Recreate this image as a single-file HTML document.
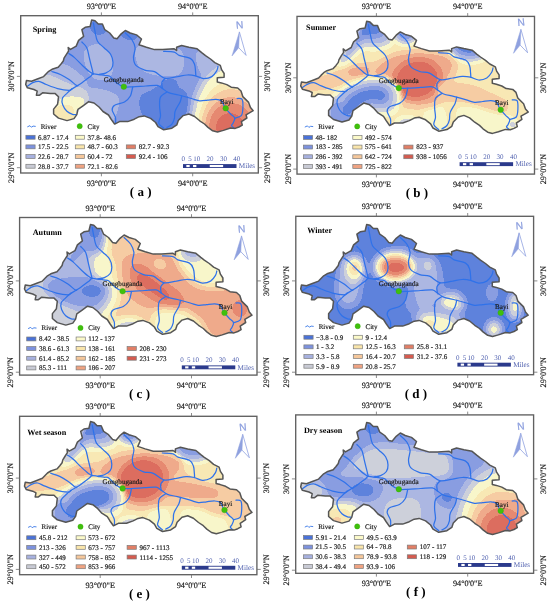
<!DOCTYPE html><html><head><meta charset="utf-8"><title>Seasonal precipitation maps</title>
<style>html,body{margin:0;padding:0;background:#fff}svg{display:block}text{font-family:"Liberation Serif","Times New Roman",serif;text-rendering:geometricPrecision}.k text{stroke:#222;stroke-width:.18px}</style></head><body>
<svg width="550" height="602" viewBox="0 0 550 602">
<defs>
<path id="basin" d="M25.7,84.5L26.5,80.5L31.5,81.3L38.0,78.8L43.6,76.6L46.0,74.0L48.7,71.3L52.0,69.3L58.2,67.2L61.0,64.0L63.3,61.0L64.0,58.2L66.4,54.3L68.6,51.0L68.2,47.5L70.5,49.4L76.2,46.1L78.6,40.4L83.6,36.3L81.9,29.7L85.2,27.3L90.1,26.5L91.7,19.9L95.0,20.7L98.3,24.0L102.4,24.0L104.8,29.7L109.7,33.0L113.8,37.9L117.1,38.7L121.2,33.8L125.3,30.5L130.2,33.0L136.5,34.9L141.5,39.0L139.0,44.7L146.4,47.2L154.5,49.6L162.7,49.6L174.2,48.8L176.6,50.5L176.6,47.2L181.6,45.5L188.9,47.2L197.1,48.8L202.0,52.9L205.5,55.6L210.5,59.0L214.8,62.6L220.3,65.4L221.6,69.7L224.1,73.5L224.1,77.2L217.3,77.8L217.3,81.9L221.4,82.9L226.8,84.6L231.2,87.2L237.7,88.0L241.0,91.0L242.8,96.6L248.6,102.4L250.5,107.5L253.2,110.7L246.0,114.8L246.9,118.0L241.4,121.6L242.3,125.2L239.0,127.0L235.2,128.4L230.5,128.0L223.4,130.4L217.5,132.0L212.7,130.8L208.0,127.4L204.5,124.0L199.7,120.8L194.6,116.5L188.9,114.0L183.2,115.6L178.3,120.6L176.8,124.9L171.9,128.2L163.7,129.8L158.0,126.6L155.6,122.5L150.6,118.4L144.1,115.9L139.2,116.7L134.3,119.2L127.7,121.6L119.5,121.6L114.6,124.1L111.0,119.0L108.5,115.0L103.0,111.5L99.0,107.0L94.0,103.0L88.7,101.7L83.0,105.8L78.0,109.3L76.8,114.6L74.0,118.6L67.0,120.6L58.5,118.1L53.6,114.0L53.6,109.1L57.6,104.2L58.5,96.8L55.2,93.6L50.3,93.6L42.9,92.7L39.6,95.2L36.4,95.2L37.2,91.1L33.9,89.5L27.4,87.8Z"/>
<clipPath id="bclip"><use href="#basin"/></clipPath>
<filter id="q3" x="0" y="0" width="300" height="200" filterUnits="userSpaceOnUse" color-interpolation-filters="sRGB">
<feGaussianBlur stdDeviation="3"/>
<feComponentTransfer><feFuncR type="discrete" tableValues="0.369 0.541 0.678 0.804 0.976 0.976 0.965 0.941 0.902 0.863"/><feFuncG type="discrete" tableValues="0.510 0.616 0.718 0.816 0.965 0.910 0.800 0.667 0.541 0.431"/><feFuncB type="discrete" tableValues="0.863 0.886 0.890 0.855 0.796 0.706 0.643 0.549 0.447 0.376"/><feFuncA type="linear" slope="0" intercept="1"/></feComponentTransfer>
<feGaussianBlur stdDeviation="0.35"/>
</filter>
<filter id="q2" x="0" y="0" width="300" height="200" filterUnits="userSpaceOnUse" color-interpolation-filters="sRGB">
<feGaussianBlur stdDeviation="2"/>
<feComponentTransfer><feFuncR type="discrete" tableValues="0.369 0.541 0.678 0.804 0.976 0.976 0.965 0.941 0.902 0.863"/><feFuncG type="discrete" tableValues="0.510 0.616 0.718 0.816 0.965 0.910 0.800 0.667 0.541 0.431"/><feFuncB type="discrete" tableValues="0.863 0.886 0.890 0.855 0.796 0.706 0.643 0.549 0.447 0.376"/><feFuncA type="linear" slope="0" intercept="1"/></feComponentTransfer>
<feGaussianBlur stdDeviation="0.35"/>
</filter>
<g id="rivers" fill="none" stroke="#2f72ea" stroke-width="1.25" stroke-linecap="round" stroke-linejoin="round">
<path d="M27.4,86.2C28.2,85.7 30.4,83.7 32.3,82.9C34.2,82.1 36.5,81.0 38.8,81.3C41.1,81.6 43.1,83.3 46.2,84.5C49.3,85.7 53.8,87.6 57.6,88.6C61.4,89.6 66.6,90.3 69.1,90.3C71.6,90.3 70.5,89.7 72.4,88.6C74.3,87.5 77.6,85.7 80.6,83.7C83.6,81.7 88.3,78.0 90.4,76.4C92.5,74.8 91.8,74.2 93.2,73.9C94.6,73.6 97.0,74.3 99.0,74.6C101.0,74.9 103.3,75.2 105.1,75.5C106.9,75.8 107.9,75.0 109.8,76.2C111.7,77.4 114.1,81.0 116.4,82.7C118.7,84.5 121.1,86.0 123.8,86.7C126.5,87.4 129.0,86.9 132.7,86.8C136.4,86.7 141.7,86.2 145.8,86.0C149.9,85.8 154.5,85.0 157.3,85.4C160.1,85.8 160.5,87.3 162.4,88.5C164.3,89.7 166.0,91.5 168.7,92.6C171.4,93.7 174.8,94.0 178.6,95.0C182.4,96.0 187.9,97.5 191.4,98.5C194.9,99.5 196.8,100.6 199.5,100.9C202.2,101.2 205.0,100.4 207.7,100.1C210.4,99.8 213.6,99.2 215.9,99.3C218.2,99.4 220.2,99.8 221.6,100.9C223.0,102.0 223.4,104.6 224.1,105.8C224.8,107.0 224.6,106.9 225.7,108.3C226.8,109.7 229.1,112.4 230.6,114.0C232.1,115.6 234.3,116.6 234.7,118.1C235.1,119.6 233.6,121.8 233.1,123.0C232.6,124.2 231.4,124.7 231.5,125.5C231.6,126.3 233.5,127.5 233.9,127.9"/>
<path d="M72.4,88.6C71.4,89.4 68.3,91.9 66.6,93.6C64.9,95.2 62.9,96.6 62.3,98.5C61.7,100.4 62.0,102.9 62.8,105.0C63.6,107.1 65.3,109.7 66.9,111.2C68.5,112.8 71.0,113.8 72.5,114.3C74.0,114.8 75.2,114.5 75.8,114.5"/>
<path d="M51.9,71.5C53.4,72.0 58.0,73.4 60.9,74.7C63.8,76.0 66.5,77.8 69.1,79.6C71.7,81.4 75.0,84.5 76.5,85.4C78.0,86.4 77.8,85.3 78.0,85.3"/>
<path d="M68.8,53.5C69.8,54.2 72.2,55.6 74.5,57.6C76.8,59.6 80.2,63.4 82.7,65.7C85.2,68.0 87.5,70.1 89.3,71.5C91.0,72.9 92.5,73.5 93.2,73.9"/>
<path d="M81.9,42.0C82.7,43.0 85.6,45.1 86.8,47.7C88.0,50.3 88.5,54.3 89.3,57.6C90.1,60.9 91.0,64.7 91.7,67.4C92.4,70.1 93.0,72.8 93.2,73.9"/>
<path d="M93.4,23.2C93.7,24.6 94.3,28.4 95.0,31.4C95.7,34.4 96.0,38.5 97.5,41.2C99.0,43.9 101.8,45.5 104.0,47.7C106.2,49.9 109.1,51.8 110.6,54.3C112.1,56.8 112.9,60.0 113.0,62.5C113.1,65.0 112.6,67.2 111.4,69.0C110.2,70.8 107.6,72.2 105.6,73.1C103.5,74.0 100.2,74.1 99.1,74.3"/>
<path d="M125.3,33.0C126.4,34.1 130.2,37.0 131.8,39.5C133.4,42.0 134.8,44.7 135.1,47.7C135.4,50.7 133.4,54.7 133.5,57.6C133.6,60.5 133.8,63.1 135.7,65.2C137.6,67.3 141.6,69.0 144.7,70.1C147.8,71.2 151.1,70.3 154.5,71.7C157.9,73.1 161.4,77.5 165.2,78.3C169.0,79.1 173.8,77.1 177.5,76.6C181.2,76.0 184.3,75.1 187.3,75.0C190.3,74.9 192.8,75.2 195.5,75.8C198.2,76.4 200.9,78.5 203.6,78.6C206.3,78.7 209.6,77.9 211.8,76.6C214.0,75.3 215.7,72.6 216.7,70.9C217.7,69.2 217.8,67.2 218.0,66.5"/>
<path d="M163.6,51.3C165.4,51.4 171.6,51.4 174.2,52.1C176.8,52.8 176.4,54.3 179.1,55.4C181.8,56.5 188.0,57.1 190.6,58.6C193.2,60.1 193.8,62.4 194.6,64.4C195.4,66.5 195.3,69.0 195.5,70.9C195.7,72.8 195.8,75.0 195.8,75.8"/>
<path d="M165.2,78.3C164.6,79.0 162.4,80.7 161.9,82.4C161.4,84.1 162.3,87.5 162.4,88.5"/>
<path d="M132.7,86.8C132.3,88.4 131.6,93.8 130.2,96.3C128.8,98.8 127.1,100.5 124.5,102.0C121.9,103.5 116.6,103.9 114.6,105.3C112.5,106.7 112.0,108.2 112.2,110.2C112.4,112.2 115.0,115.4 115.5,117.6C116.0,119.8 115.5,122.5 115.5,123.5"/>
<path d="M167.0,92.0C165.9,92.8 161.7,94.8 160.5,97.1C159.3,99.4 159.6,103.0 159.6,106.1C159.6,109.2 160.6,113.0 160.5,115.9C160.4,118.8 158.3,121.2 158.8,123.3C159.3,125.3 162.9,127.4 163.7,128.2"/>
<path d="M181.7,95.8C181.4,96.8 181.2,99.5 180.1,102.0C179.0,104.5 176.1,108.3 175.2,111.0C174.2,113.7 174.9,116.2 174.4,118.4C173.9,120.6 173.1,122.6 171.9,124.1C170.7,125.6 167.8,126.9 167.0,127.4"/>
<path d="M237.2,98.5C238.0,98.6 241.1,97.8 242.1,99.3C243.1,100.8 243.0,104.8 242.9,107.5C242.8,110.2 242.7,113.8 241.3,115.6C239.9,117.4 235.8,117.7 234.7,118.1"/>
</g>
<g id="narrow"><path d="M239.4,31.9L232,55.9L238.7,47.7Z" fill="#8fa1df" stroke="#8fa1df" stroke-width="0.5"/><path d="M239.4,31.9L246.1,55.4L238.7,47.7" fill="none" stroke="#8fa1df" stroke-width="0.8"/><text x="239.6" y="28.4" style="font-family:Liberation Sans,Arial,sans-serif" font-size="10.2" fill="#8fa1df" stroke="#8fa1df" stroke-width="0.25" text-anchor="middle" transform="rotate(-5 239.6 25)">N</text></g>
<g id="sbar"><rect x="183" y="164.1" width="53.5" height="3.9" fill="#2b3a8c"/>
<rect x="186.34" y="165.0" width="3.34" height="2.1" fill="#fff"/>
<rect x="193.03" y="165.0" width="3.34" height="2.1" fill="#fff"/>
<rect x="209.75" y="165.0" width="13.38" height="2.1" fill="#fff"/>
<text x="183.3" y="161.1" font-size="7" fill="#4e5fae" text-anchor="middle">0</text>
<text x="190.0" y="161.1" font-size="7" fill="#4e5fae" text-anchor="middle">5</text>
<text x="196.7" y="161.1" font-size="7" fill="#4e5fae" text-anchor="middle">10</text>
<text x="210.1" y="161.1" font-size="7" fill="#4e5fae" text-anchor="middle">20</text>
<text x="223.4" y="161.1" font-size="7" fill="#4e5fae" text-anchor="middle">30</text>
<text x="236.8" y="161.1" font-size="7" fill="#4e5fae" text-anchor="middle">40</text>
<text x="238.8" y="168.3" font-size="7.2" fill="#4e5fae">Miles</text></g>
</defs>
<rect width="550" height="602" fill="#fff"/>
<g id="panel-a" class="k">
<rect x="20.7" y="15.7" width="237.6" height="157.3" fill="#fff" stroke="#606060" stroke-width="1.35"/>
<g transform="translate(0.0,0.0)">
<g clip-path="url(#bclip)"><g filter="url(#q2)">
<rect x="0" y="0" width="300" height="200" fill="#262626"/>
<path d="M84.0,52.0C85.7,47.3 93.7,43.7 98.0,44.0C102.3,44.3 107.5,50.3 110.0,54.0C112.5,57.7 113.0,62.0 113.0,66.0C113.0,70.0 112.5,75.7 110.0,78.0C107.5,80.3 101.7,81.0 98.0,80.0C94.3,79.0 90.3,76.7 88.0,72.0C85.7,67.3 82.3,56.7 84.0,52.0Z" fill="#404040"/>
<path d="M46.0,70.0C50.0,67.3 57.7,62.7 64.0,64.0C70.3,65.3 80.3,74.0 84.0,78.0C87.7,82.0 90.0,86.7 86.0,88.0C82.0,89.3 67.7,87.3 60.0,86.0C52.3,84.7 42.3,82.7 40.0,80.0C37.7,77.3 42.0,72.7 46.0,70.0Z" fill="#404040"/>
<path d="M138.0,46.0C144.0,42.7 168.3,46.0 176.0,48.0C183.7,50.0 183.3,53.7 184.0,58.0C184.7,62.3 184.0,71.0 180.0,74.0C176.0,77.0 166.7,77.0 160.0,76.0C153.3,75.0 143.7,73.0 140.0,68.0C136.3,63.0 132.0,49.3 138.0,46.0Z" fill="#404040"/>
<path d="M198.0,50.0C201.0,48.7 211.7,56.0 216.0,60.0C220.3,64.0 225.0,70.7 224.0,74.0C223.0,77.3 214.3,81.0 210.0,80.0C205.7,79.0 200.0,73.0 198.0,68.0C196.0,63.0 195.0,51.3 198.0,50.0Z" fill="#404040"/>
<path d="M86.0,88.0C91.0,86.7 113.7,90.3 118.0,96.0C122.3,101.7 115.0,119.7 112.0,122.0C109.0,124.3 104.0,113.0 100.0,110.0C96.0,107.0 90.3,107.7 88.0,104.0C85.7,100.3 81.0,89.3 86.0,88.0Z" fill="#404040"/>
<ellipse cx="99" cy="27" rx="9" ry="8" fill="#0d0d0d"/>
<ellipse cx="129" cy="35" rx="9" ry="5" fill="#0d0d0d" transform="rotate(15 129 35)"/>
<path d="M140.0,97.0C141.7,93.0 148.7,91.8 152.0,90.0C155.3,88.2 154.7,86.0 160.0,86.0C165.3,86.0 179.3,86.3 184.0,90.0C188.7,93.7 189.0,101.3 188.0,108.0C187.0,114.7 183.5,126.7 178.0,130.0C172.5,133.3 161.0,130.7 155.0,128.0C149.0,125.3 144.5,119.2 142.0,114.0C139.5,108.8 138.3,101.0 140.0,97.0Z" fill="#0d0d0d"/>
<ellipse cx="170" cy="84" rx="8" ry="6" fill="#0d0d0d"/>
<path d="M22.0,78.0C25.8,75.0 37.0,73.0 45.0,74.0C53.0,75.0 63.2,81.3 70.0,84.0C76.8,86.7 83.0,87.0 86.0,90.0C89.0,93.0 90.3,100.3 88.0,102.0C85.7,103.7 77.3,100.7 72.0,100.0C66.7,99.3 61.3,98.0 56.0,98.0C50.7,98.0 45.7,101.0 40.0,100.0C34.3,99.0 25.0,95.7 22.0,92.0C19.0,88.3 18.2,81.0 22.0,78.0Z" fill="#595959"/>
<path d="M60.0,98.0C63.7,96.2 75.7,96.0 80.0,97.0C84.3,98.0 86.0,101.8 86.0,104.0C86.0,106.2 84.7,109.3 80.0,110.0C75.3,110.7 61.3,110.0 58.0,108.0C54.7,106.0 56.3,99.8 60.0,98.0Z" fill="#737373"/>
<path d="M48.0,108.0C51.7,105.0 67.3,103.3 72.0,106.0C76.7,108.7 79.7,121.0 76.0,124.0C72.3,127.0 54.7,126.7 50.0,124.0C45.3,121.3 44.3,111.0 48.0,108.0Z" fill="#8c8c8c"/>
<ellipse cx="231" cy="127" rx="43" ry="70" fill="#404040"/>
<ellipse cx="231" cy="127" rx="40" ry="64" fill="#595959"/>
<ellipse cx="231" cy="127" rx="37" ry="58" fill="#737373"/>
<ellipse cx="231" cy="127" rx="33" ry="46" fill="#8c8c8c"/>
<ellipse cx="231" cy="127" rx="30" ry="38" fill="#a6a6a6"/>
<ellipse cx="231" cy="127" rx="26" ry="30" fill="#bfbfbf"/>
<ellipse cx="231" cy="127" rx="22" ry="24" fill="#d9d9d9"/>
<ellipse cx="230" cy="127" rx="14" ry="14" fill="#f2f2f2"/>
</g></g>
<use href="#rivers"/>
<use href="#basin" fill="none" stroke="#555" stroke-width="1.5" stroke-linejoin="round"/>
<circle cx="123.8" cy="86.7" r="2.8" fill="#3fc00c" stroke="#36a80a" stroke-width="0.4"/>
<circle cx="225.7" cy="108.3" r="2.8" fill="#3fc00c" stroke="#36a80a" stroke-width="0.4"/>
<text x="103.8" y="81.9" font-size="7.1" fill="#1a1a1a">Gongbuganda</text>
<text x="220.0" y="104.1" font-size="7.1" fill="#1a1a1a">Bayi</text>
</g>
<g stroke="#6e6e6e" stroke-width="0.8">
<line x1="101.4" y1="12.4" x2="101.4" y2="15.7"/>
<line x1="101.4" y1="173.0" x2="101.4" y2="176.3"/>
<line x1="192.7" y1="12.4" x2="192.7" y2="15.7"/>
<line x1="192.7" y1="173.0" x2="192.7" y2="176.3"/>
<line x1="16.9" y1="76.4" x2="20.7" y2="76.4"/>
<line x1="258.3" y1="76.4" x2="262.1" y2="76.4"/>
<line x1="16.9" y1="167.7" x2="20.7" y2="167.7"/>
<line x1="258.3" y1="167.7" x2="262.1" y2="167.7"/>
</g>
<text x="101.4" y="8.7" font-size="8.2" fill="#1a1a1a" text-anchor="middle">93°0'0&quot;E</text>
<text x="101.4" y="185.8" font-size="8.2" fill="#1a1a1a" text-anchor="middle">93°0'0&quot;E</text>
<text x="192.7" y="8.7" font-size="8.2" fill="#1a1a1a" text-anchor="middle">94°0'0&quot;E</text>
<text x="192.7" y="185.8" font-size="8.2" fill="#1a1a1a" text-anchor="middle">94°0'0&quot;E</text>
<text x="14.4" y="76.4" font-size="8.2" fill="#1a1a1a" text-anchor="middle" transform="rotate(-90 14.4 76.4)">30°0'0&quot;N</text>
<text x="270.3" y="76.4" font-size="8.2" fill="#1a1a1a" text-anchor="middle" transform="rotate(-90 270.3 76.4)">30°0'0&quot;N</text>
<text x="14.4" y="167.7" font-size="8.2" fill="#1a1a1a" text-anchor="middle" transform="rotate(-90 14.4 167.7)">29°0'0&quot;N</text>
<text x="270.3" y="167.7" font-size="8.2" fill="#1a1a1a" text-anchor="middle" transform="rotate(-90 270.3 167.7)">29°0'0&quot;N</text>
<text x="32.7" y="31.6" font-size="8.2" fill="#000" font-weight="bold" style="stroke:none">Spring</text>
<use href="#narrow" transform="translate(0.0,0.0)"/>
<use href="#sbar" transform="translate(0.0,0.0)"/>
<g transform="translate(0.0,0.0)">
<path d="M27.3,126.9L29.9,125.7L31.4,127.2L33.1,126.1L35.7,126.4" fill="none" stroke="#3776e6" stroke-width="0.9"/>
<text x="40.7" y="128.6" font-size="7" fill="#1a1a1a">River</text>
<circle cx="79.7" cy="126.2" r="2.6" fill="#3fc00c" stroke="#36a80a" stroke-width="0.4"/>
<text x="87.5" y="128.6" font-size="7" fill="#1a1a1a">City</text>
<rect x="25.9" y="135.3" width="9.2" height="3.9" fill="#4a72d8" stroke="#7c7c7c" stroke-width="0.7"/>
<text x="38.1" y="139.7" font-size="7" fill="#1a1a1a">6.87 - 17.4</text>
<rect x="25.9" y="144.9" width="9.2" height="3.9" fill="#7d92de" stroke="#7c7c7c" stroke-width="0.7"/>
<text x="38.1" y="149.3" font-size="7" fill="#1a1a1a">17.5 - 22.5</text>
<rect x="25.9" y="154.6" width="9.2" height="3.9" fill="#a7b1df" stroke="#7c7c7c" stroke-width="0.7"/>
<text x="38.1" y="159.0" font-size="7" fill="#1a1a1a">22.6 - 28.7</text>
<rect x="25.9" y="164.3" width="9.2" height="3.9" fill="#c8cad4" stroke="#7c7c7c" stroke-width="0.7"/>
<text x="38.1" y="168.7" font-size="7" fill="#1a1a1a">28.8 - 37.7</text>
<rect x="75.3" y="135.3" width="9.2" height="3.9" fill="#fbf9c9" stroke="#7c7c7c" stroke-width="0.7"/>
<text x="87.5" y="139.7" font-size="7" fill="#1a1a1a">37.8- 48.6</text>
<rect x="75.3" y="144.9" width="9.2" height="3.9" fill="#f9e5ab" stroke="#7c7c7c" stroke-width="0.7"/>
<text x="87.5" y="149.3" font-size="7" fill="#1a1a1a">48.7 - 60.3</text>
<rect x="75.3" y="154.6" width="9.2" height="3.9" fill="#f5c79b" stroke="#7c7c7c" stroke-width="0.7"/>
<text x="87.5" y="159.0" font-size="7" fill="#1a1a1a">60.4 - 72</text>
<rect x="75.3" y="164.3" width="9.2" height="3.9" fill="#efa382" stroke="#7c7c7c" stroke-width="0.7"/>
<text x="87.5" y="168.7" font-size="7" fill="#1a1a1a">72.1 - 82.6</text>
<rect x="126.3" y="144.9" width="9.2" height="3.9" fill="#e17e66" stroke="#7c7c7c" stroke-width="0.7"/>
<text x="138.8" y="149.3" font-size="7" fill="#1a1a1a">82.7 - 92.3</text>
<rect x="126.3" y="154.6" width="9.2" height="3.9" fill="#d55b4f" stroke="#7c7c7c" stroke-width="0.7"/>
<text x="138.8" y="159.0" font-size="7" fill="#1a1a1a">92.4 - 106</text>
</g>
<text x="140.7" y="195.8" font-size="13" fill="#000" text-anchor="middle" font-weight="bold" style="stroke:none">( a )</text>
</g>
<g id="panel-b" class="k">
<rect x="297.0" y="16.4" width="237.5" height="157.7" fill="#fff" stroke="#606060" stroke-width="1.35"/>
<g transform="translate(275.0,1.4)">
<g clip-path="url(#bclip)"><g filter="url(#q2)">
<rect x="0" y="0" width="300" height="200" fill="#8c8c8c"/>
<path d="M182.0,108.0C183.7,103.2 193.7,105.3 200.0,106.0C206.3,106.7 213.3,110.3 220.0,112.0C226.7,113.7 236.7,112.2 240.0,116.0C243.3,119.8 248.3,131.8 240.0,135.0C231.7,138.2 199.7,139.5 190.0,135.0C180.3,130.5 180.3,112.8 182.0,108.0Z" fill="#737373"/>
<path d="M150.0,108.0C152.7,103.3 162.3,102.3 166.0,104.0C169.7,105.7 171.7,113.0 172.0,118.0C172.3,123.0 171.7,131.7 168.0,134.0C164.3,136.3 153.0,136.3 150.0,132.0C147.0,127.7 147.3,112.7 150.0,108.0Z" fill="#737373"/>
<path d="M60.0,62.0C59.7,59.3 63.3,53.7 66.0,50.0C68.7,46.3 73.3,44.0 76.0,40.0C78.7,36.0 79.7,30.7 82.0,26.0C84.3,21.3 85.3,14.0 90.0,12.0C94.7,10.0 105.0,10.3 110.0,14.0C115.0,17.7 119.0,28.7 120.0,34.0C121.0,39.3 119.3,43.3 116.0,46.0C112.7,48.7 104.7,49.3 100.0,50.0C95.3,50.7 91.7,48.7 88.0,50.0C84.3,51.3 81.3,55.3 78.0,58.0C74.7,60.7 71.0,65.3 68.0,66.0C65.0,66.7 60.3,64.7 60.0,62.0Z" fill="#737373"/>
<path d="M64.0,58.0C64.0,55.8 67.7,51.3 70.0,48.0C72.3,44.7 75.7,41.7 78.0,38.0C80.3,34.3 81.8,30.3 84.0,26.0C86.2,21.7 87.0,14.0 91.0,12.0C95.0,10.0 103.7,10.5 108.0,14.0C112.3,17.5 116.2,28.2 117.0,33.0C117.8,37.8 115.8,40.8 113.0,43.0C110.2,45.2 104.2,45.5 100.0,46.0C95.8,46.5 91.7,44.8 88.0,46.0C84.3,47.2 81.0,50.5 78.0,53.0C75.0,55.5 72.3,60.2 70.0,61.0C67.7,61.8 64.0,60.2 64.0,58.0Z" fill="#595959"/>
<path d="M69.0,53.0C69.2,51.2 72.2,47.8 74.0,45.0C75.8,42.2 78.0,39.3 80.0,36.0C82.0,32.7 84.0,29.0 86.0,25.0C88.0,21.0 88.7,13.8 92.0,12.0C95.3,10.2 102.3,10.7 106.0,14.0C109.7,17.3 113.3,27.7 114.0,32.0C114.7,36.3 112.5,38.3 110.0,40.0C107.5,41.7 102.7,41.7 99.0,42.0C95.3,42.3 91.2,41.0 88.0,42.0C84.8,43.0 82.5,45.7 80.0,48.0C77.5,50.3 74.8,55.2 73.0,56.0C71.2,56.8 68.8,54.8 69.0,53.0Z" fill="#404040"/>
<path d="M75.0,47.0C74.5,46.7 77.7,43.3 79.0,41.0C80.3,38.7 81.5,35.8 83.0,33.0C84.5,30.2 86.5,27.5 88.0,24.0C89.5,20.5 89.3,13.7 92.0,12.0C94.7,10.3 101.0,11.0 104.0,14.0C107.0,17.0 109.7,26.3 110.0,30.0C110.3,33.7 108.0,34.8 106.0,36.0C104.0,37.2 100.8,37.2 98.0,37.5C95.2,37.8 91.7,37.1 89.0,38.0C86.3,38.9 84.3,41.5 82.0,43.0C79.7,44.5 75.5,47.3 75.0,47.0Z" fill="#262626"/>
<path d="M84.0,32.0C84.2,30.0 87.5,25.3 89.0,22.0C90.5,18.7 90.7,13.3 93.0,12.0C95.3,10.7 100.7,11.3 103.0,14.0C105.3,16.7 107.2,25.0 107.0,28.0C106.8,31.0 104.2,31.2 102.0,32.0C99.8,32.8 96.3,32.7 94.0,33.0C91.7,33.3 89.7,34.2 88.0,34.0C86.3,33.8 83.8,34.0 84.0,32.0Z" fill="#0d0d0d"/>
<ellipse cx="131" cy="30" rx="15" ry="16" fill="#737373"/>
<ellipse cx="131" cy="30" rx="13" ry="13" fill="#595959"/>
<ellipse cx="131" cy="30" rx="11" ry="10.5" fill="#404040"/>
<ellipse cx="131" cy="30" rx="9" ry="8" fill="#262626"/>
<ellipse cx="131" cy="30" rx="6" ry="5" fill="#0d0d0d"/>
<ellipse cx="193" cy="46" rx="26" ry="17" fill="#737373" transform="rotate(8 193 46)"/>
<ellipse cx="193" cy="46" rx="22" ry="14" fill="#595959" transform="rotate(8 193 46)"/>
<ellipse cx="193" cy="46" rx="18" ry="11.5" fill="#404040" transform="rotate(8 193 46)"/>
<ellipse cx="193" cy="46" rx="14.5" ry="9" fill="#262626" transform="rotate(8 193 46)"/>
<ellipse cx="192" cy="45" rx="11" ry="6.5" fill="#0d0d0d" transform="rotate(8 192 45)"/>
<path d="M24.0,80.0C28.3,77.3 42.3,76.3 50.0,74.0C57.7,71.7 64.3,68.0 70.0,66.0C75.7,64.0 79.0,63.0 84.0,62.0C89.0,61.0 95.3,61.3 100.0,60.0C104.7,58.7 107.8,55.8 112.0,54.0C116.2,52.2 119.5,50.2 125.0,49.0C130.5,47.8 137.8,47.0 145.0,47.0C152.2,47.0 161.8,47.2 168.0,49.0C174.2,50.8 179.7,54.5 182.0,58.0C184.3,61.5 183.0,65.7 182.0,70.0C181.0,74.3 177.7,79.7 176.0,84.0C174.3,88.3 174.3,92.5 172.0,96.0C169.7,99.5 166.5,103.0 162.0,105.0C157.5,107.0 150.7,107.8 145.0,108.0C139.3,108.2 133.2,107.7 128.0,106.0C122.8,104.3 118.0,100.7 114.0,98.0C110.0,95.3 109.0,92.7 104.0,90.0C99.0,87.3 93.0,82.3 84.0,82.0C75.0,81.7 60.0,86.7 50.0,88.0C40.0,89.3 28.3,91.3 24.0,90.0C19.7,88.7 19.7,82.7 24.0,80.0Z" fill="#a6a6a6"/>
<ellipse cx="84" cy="70" rx="12" ry="5" fill="#bfbfbf" transform="rotate(-5 84 70)"/>
<path d="M100.0,70.0C100.8,66.3 106.0,62.7 110.0,60.0C114.0,57.3 118.2,55.3 124.0,54.0C129.8,52.7 138.2,52.0 145.0,52.0C151.8,52.0 159.8,52.7 165.0,54.0C170.2,55.3 174.2,57.7 176.0,60.0C177.8,62.3 177.0,64.7 176.0,68.0C175.0,71.3 171.3,76.0 170.0,80.0C168.7,84.0 169.7,88.7 168.0,92.0C166.3,95.3 163.8,98.2 160.0,100.0C156.2,101.8 150.0,103.0 145.0,103.0C140.0,103.0 134.8,101.8 130.0,100.0C125.2,98.2 120.2,95.0 116.0,92.0C111.8,89.0 107.7,85.7 105.0,82.0C102.3,78.3 99.2,73.7 100.0,70.0Z" fill="#bfbfbf"/>
<ellipse cx="142" cy="77.5" rx="26.5" ry="22" fill="#d9d9d9" transform="rotate(-15 142 77.5)"/>
<ellipse cx="142" cy="78" rx="21" ry="17.5" fill="#f2f2f2" transform="rotate(-15 142 78)"/>
<path d="M165.0,82.0C170.0,79.3 186.7,81.5 195.0,83.0C203.3,84.5 208.8,88.2 215.0,91.0C221.2,93.8 229.5,96.7 232.0,100.0C234.5,103.3 233.7,109.8 230.0,111.0C226.3,112.2 216.7,108.7 210.0,107.0C203.3,105.3 197.5,102.3 190.0,101.0C182.5,99.7 169.2,102.2 165.0,99.0C160.8,95.8 160.0,84.7 165.0,82.0Z" fill="#a6a6a6"/>
<path d="M52.0,114.0C52.3,108.5 53.3,100.0 56.0,95.0C58.7,90.0 63.7,86.9 68.0,84.0C72.3,81.1 77.3,79.0 82.0,77.5C86.7,76.0 90.8,75.2 96.0,75.0C101.2,74.8 108.2,73.8 113.0,76.0C117.8,78.2 123.0,83.0 125.0,88.0C127.0,93.0 126.5,101.5 125.0,106.0C123.5,110.5 119.5,113.5 116.0,115.0C112.5,116.5 107.7,114.8 104.0,115.0C100.3,115.2 96.7,114.5 94.0,116.0C91.3,117.5 91.0,121.7 88.0,124.0C85.0,126.3 81.7,129.3 76.0,130.0C70.3,130.7 58.0,130.7 54.0,128.0C50.0,125.3 51.7,119.5 52.0,114.0Z" fill="#737373"/>
<path d="M56.0,112.0C56.3,107.5 57.7,101.2 60.0,97.0C62.3,92.8 66.2,89.7 70.0,87.0C73.8,84.3 78.7,82.4 83.0,81.0C87.3,79.6 91.3,78.8 96.0,78.5C100.7,78.2 106.8,77.8 111.0,79.5C115.2,81.2 119.3,84.9 121.0,89.0C122.7,93.1 122.5,100.3 121.0,104.0C119.5,107.7 115.5,110.0 112.0,111.0C108.5,112.0 103.3,109.8 100.0,110.0C96.7,110.2 94.3,110.3 92.0,112.0C89.7,113.7 88.7,117.7 86.0,120.0C83.3,122.3 80.7,125.3 76.0,126.0C71.3,126.7 61.3,126.3 58.0,124.0C54.7,121.7 55.7,116.5 56.0,112.0Z" fill="#595959"/>
<path d="M60.0,111.0C60.2,107.5 61.0,102.5 63.0,99.0C65.0,95.5 68.5,92.5 72.0,90.0C75.5,87.5 80.0,85.4 84.0,84.0C88.0,82.6 91.7,81.8 96.0,81.5C100.3,81.2 106.4,81.1 110.0,82.5C113.6,83.9 116.3,86.8 117.5,90.0C118.7,93.2 118.6,99.2 117.0,102.0C115.4,104.8 111.2,106.3 108.0,107.0C104.8,107.7 101.0,105.8 98.0,106.0C95.0,106.2 92.3,106.3 90.0,108.0C87.7,109.7 86.3,113.7 84.0,116.0C81.7,118.3 79.7,121.3 76.0,122.0C72.3,122.7 64.7,121.8 62.0,120.0C59.3,118.2 59.8,114.5 60.0,111.0Z" fill="#404040"/>
<path d="M63.0,110.0C63.0,107.5 64.2,103.8 66.0,101.0C67.8,98.2 70.8,95.3 74.0,93.0C77.2,90.7 81.3,88.4 85.0,87.0C88.7,85.6 92.2,84.8 96.0,84.5C99.8,84.2 105.0,84.4 108.0,85.5C111.0,86.6 113.2,88.6 114.0,91.0C114.8,93.4 114.7,98.0 113.0,100.0C111.3,102.0 106.8,102.7 104.0,103.0C101.2,103.3 98.7,101.7 96.0,102.0C93.3,102.3 90.3,103.3 88.0,105.0C85.7,106.7 84.0,109.8 82.0,112.0C80.0,114.2 78.7,117.3 76.0,118.0C73.3,118.7 68.2,117.3 66.0,116.0C63.8,114.7 63.0,112.5 63.0,110.0Z" fill="#262626"/>
<path d="M50.0,100.0C51.7,95.5 55.7,96.7 60.0,97.0C64.3,97.3 72.7,99.5 76.0,102.0C79.3,104.5 79.7,108.3 80.0,112.0C80.3,115.7 83.0,122.0 78.0,124.0C73.0,126.0 54.7,128.0 50.0,124.0C45.3,120.0 48.3,104.5 50.0,100.0Z" fill="#404040"/>
<path d="M57.0,104.0C58.7,100.7 64.7,100.7 68.0,101.0C71.3,101.3 75.7,102.7 77.0,106.0C78.3,109.3 79.2,118.5 76.0,121.0C72.8,123.5 61.2,123.8 58.0,121.0C54.8,118.2 55.3,107.3 57.0,104.0Z" fill="#262626"/>
<path d="M66.9,109.4C66.5,107.6 68.6,105.1 70.2,102.9C71.8,100.7 74.2,98.3 76.7,96.3C79.2,94.3 82.2,92.2 85.5,90.9C88.8,89.6 92.8,88.9 96.4,88.7C100.0,88.5 105.0,88.9 107.3,89.8C109.6,90.7 110.5,92.8 110.5,94.2C110.5,95.7 109.6,98.0 107.3,98.5C105.0,99.0 100.0,96.9 96.4,97.4C92.8,98.0 88.4,99.8 85.5,101.8C82.6,103.8 81.1,107.4 78.9,109.4C76.7,111.4 74.4,113.8 72.4,113.8C70.4,113.8 67.3,111.2 66.9,109.4Z" fill="#0d0d0d"/>
<ellipse cx="132" cy="122" rx="13" ry="9" fill="#737373"/>
<ellipse cx="132" cy="124" rx="10" ry="7" fill="#595959"/>
<ellipse cx="238" cy="123" rx="5" ry="3" fill="#595959"/>
</g></g>
<use href="#rivers"/>
<use href="#basin" fill="none" stroke="#555" stroke-width="1.5" stroke-linejoin="round"/>
<circle cx="123.8" cy="86.7" r="2.8" fill="#3fc00c" stroke="#36a80a" stroke-width="0.4"/>
<circle cx="225.7" cy="108.3" r="2.8" fill="#3fc00c" stroke="#36a80a" stroke-width="0.4"/>
<text x="103.8" y="81.9" font-size="7.1" fill="#1a1a1a">Gongbuganda</text>
<text x="220.0" y="104.1" font-size="7.1" fill="#1a1a1a">Bayi</text>
</g>
<g stroke="#6e6e6e" stroke-width="0.8">
<line x1="376.4" y1="13.1" x2="376.4" y2="16.4"/>
<line x1="376.4" y1="174.1" x2="376.4" y2="177.4"/>
<line x1="467.7" y1="13.1" x2="467.7" y2="16.4"/>
<line x1="467.7" y1="174.1" x2="467.7" y2="177.4"/>
<line x1="293.2" y1="77.8" x2="297.0" y2="77.8"/>
<line x1="534.5" y1="77.8" x2="538.3" y2="77.8"/>
<line x1="293.2" y1="169.1" x2="297.0" y2="169.1"/>
<line x1="534.5" y1="169.1" x2="538.3" y2="169.1"/>
</g>
<text x="376.4" y="9.4" font-size="8.2" fill="#1a1a1a" text-anchor="middle">93°0'0&quot;E</text>
<text x="376.4" y="186.9" font-size="8.2" fill="#1a1a1a" text-anchor="middle">93°0'0&quot;E</text>
<text x="467.7" y="9.4" font-size="8.2" fill="#1a1a1a" text-anchor="middle">94°0'0&quot;E</text>
<text x="467.7" y="186.9" font-size="8.2" fill="#1a1a1a" text-anchor="middle">94°0'0&quot;E</text>
<text x="290.7" y="77.8" font-size="8.2" fill="#1a1a1a" text-anchor="middle" transform="rotate(-90 290.7 77.8)">30°0'0&quot;N</text>
<text x="546.5" y="77.8" font-size="8.2" fill="#1a1a1a" text-anchor="middle" transform="rotate(-90 546.5 77.8)">30°0'0&quot;N</text>
<text x="290.7" y="169.1" font-size="8.2" fill="#1a1a1a" text-anchor="middle" transform="rotate(-90 290.7 169.1)">29°0'0&quot;N</text>
<text x="546.5" y="169.1" font-size="8.2" fill="#1a1a1a" text-anchor="middle" transform="rotate(-90 546.5 169.1)">29°0'0&quot;N</text>
<text x="306.1" y="30.3" font-size="8.2" fill="#000" font-weight="bold" style="stroke:none">Summer</text>
<use href="#narrow" transform="translate(281.5,-2.6)"/>
<use href="#sbar" transform="translate(276.6,-1.9)"/>
<g transform="translate(277.5,0.2)">
<path d="M27.3,126.9L29.9,125.7L31.4,127.2L33.1,126.1L35.7,126.4" fill="none" stroke="#3776e6" stroke-width="0.9"/>
<text x="40.7" y="128.6" font-size="7" fill="#1a1a1a">River</text>
<circle cx="79.7" cy="126.2" r="2.6" fill="#3fc00c" stroke="#36a80a" stroke-width="0.4"/>
<text x="87.5" y="128.6" font-size="7" fill="#1a1a1a">City</text>
<rect x="25.9" y="135.3" width="9.2" height="3.9" fill="#4a72d8" stroke="#7c7c7c" stroke-width="0.7"/>
<text x="38.1" y="139.7" font-size="7" fill="#1a1a1a">48- 182</text>
<rect x="25.9" y="144.9" width="9.2" height="3.9" fill="#7d92de" stroke="#7c7c7c" stroke-width="0.7"/>
<text x="38.1" y="149.3" font-size="7" fill="#1a1a1a">183 - 285</text>
<rect x="25.9" y="154.6" width="9.2" height="3.9" fill="#a7b1df" stroke="#7c7c7c" stroke-width="0.7"/>
<text x="38.1" y="159.0" font-size="7" fill="#1a1a1a">286 - 392</text>
<rect x="25.9" y="164.3" width="9.2" height="3.9" fill="#c8cad4" stroke="#7c7c7c" stroke-width="0.7"/>
<text x="38.1" y="168.7" font-size="7" fill="#1a1a1a">393 - 491</text>
<rect x="75.3" y="135.3" width="9.2" height="3.9" fill="#fbf9c9" stroke="#7c7c7c" stroke-width="0.7"/>
<text x="87.5" y="139.7" font-size="7" fill="#1a1a1a">492 - 574</text>
<rect x="75.3" y="144.9" width="9.2" height="3.9" fill="#f9e5ab" stroke="#7c7c7c" stroke-width="0.7"/>
<text x="87.5" y="149.3" font-size="7" fill="#1a1a1a">575 - 641</text>
<rect x="75.3" y="154.6" width="9.2" height="3.9" fill="#f5c79b" stroke="#7c7c7c" stroke-width="0.7"/>
<text x="87.5" y="159.0" font-size="7" fill="#1a1a1a">642 - 724</text>
<rect x="75.3" y="164.3" width="9.2" height="3.9" fill="#efa382" stroke="#7c7c7c" stroke-width="0.7"/>
<text x="87.5" y="168.7" font-size="7" fill="#1a1a1a">725 - 822</text>
<rect x="126.3" y="144.9" width="9.2" height="3.9" fill="#e17e66" stroke="#7c7c7c" stroke-width="0.7"/>
<text x="138.8" y="149.3" font-size="7" fill="#1a1a1a">823 - 937</text>
<rect x="126.3" y="154.6" width="9.2" height="3.9" fill="#d55b4f" stroke="#7c7c7c" stroke-width="0.7"/>
<text x="138.8" y="159.0" font-size="7" fill="#1a1a1a">938 - 1056</text>
</g>
<text x="416.9" y="196.9" font-size="13" fill="#000" text-anchor="middle" font-weight="bold" style="stroke:none">( b )</text>
</g>
<g id="panel-c" class="k">
<rect x="19.6" y="217.5" width="237.4" height="157.6" fill="#fff" stroke="#606060" stroke-width="1.35"/>
<g transform="translate(-1.2,204.5)">
<g clip-path="url(#bclip)"><g filter="url(#q3)">
<rect x="0" y="0" width="300" height="200" fill="#a6a6a6"/>
<path d="M97.0,10.0C105.7,9.2 109.5,23.7 112.0,30.0C114.5,36.3 111.2,43.0 112.0,48.0C112.8,53.0 116.0,56.3 117.0,60.0C118.0,63.7 117.5,67.0 118.0,70.0C118.5,73.0 119.3,75.3 120.0,78.0C120.7,80.7 121.8,82.8 122.0,86.0C122.2,89.2 121.8,93.3 121.0,97.0C120.2,100.7 118.3,105.2 117.0,108.0C115.7,110.8 112.8,112.0 113.0,114.0C113.2,116.0 115.5,118.0 118.0,120.0C120.5,122.0 125.0,123.5 128.0,126.0C131.0,128.5 147.3,133.5 136.0,135.0C124.7,136.5 81.0,140.8 60.0,135.0C39.0,129.2 18.3,110.8 10.0,100.0C1.7,89.2 1.7,80.8 10.0,70.0C18.3,59.2 45.5,45.0 60.0,35.0C74.5,25.0 88.3,10.8 97.0,10.0Z" fill="#8c8c8c"/>
<path d="M94.0,10.0C102.0,9.2 105.7,23.7 108.0,30.0C110.3,36.3 107.3,43.0 108.0,48.0C108.7,53.0 111.2,56.3 112.0,60.0C112.8,63.7 112.3,67.0 113.0,70.0C113.7,73.0 115.0,75.3 116.0,78.0C117.0,80.7 118.7,83.0 119.0,86.0C119.3,89.0 119.0,92.7 118.0,96.0C117.0,99.3 114.7,103.0 113.0,106.0C111.3,109.0 108.2,111.3 108.0,114.0C107.8,116.7 110.0,119.7 112.0,122.0C114.0,124.3 117.3,125.8 120.0,128.0C122.7,130.2 138.0,133.8 128.0,135.0C118.0,136.2 79.7,140.8 60.0,135.0C40.3,129.2 18.3,110.8 10.0,100.0C1.7,89.2 1.7,80.8 10.0,70.0C18.3,59.2 46.0,45.0 60.0,35.0C74.0,25.0 86.0,10.8 94.0,10.0Z" fill="#737373"/>
<path d="M90.0,10.0C96.7,9.2 99.0,24.0 100.0,30.0C101.0,36.0 96.8,41.0 96.0,46.0C95.2,51.0 95.0,56.0 95.0,60.0C95.0,64.0 94.5,67.3 96.0,70.0C97.5,72.7 101.3,74.0 104.0,76.0C106.7,78.0 110.5,79.3 112.0,82.0C113.5,84.7 113.7,88.7 113.0,92.0C112.3,95.3 109.8,99.0 108.0,102.0C106.2,105.0 103.3,107.3 102.0,110.0C100.7,112.7 99.3,115.3 100.0,118.0C100.7,120.7 104.0,123.2 106.0,126.0C108.0,128.8 119.7,133.5 112.0,135.0C104.3,136.5 77.0,140.8 60.0,135.0C43.0,129.2 18.3,110.8 10.0,100.0C1.7,89.2 1.7,80.8 10.0,70.0C18.3,59.2 46.7,45.0 60.0,35.0C73.3,25.0 83.3,10.8 90.0,10.0Z" fill="#595959"/>
<path d="M86.0,10.0C90.2,8.0 94.2,24.0 95.0,30.0C95.8,36.0 91.7,41.0 91.0,46.0C90.3,51.0 90.7,56.0 91.0,60.0C91.3,64.0 91.5,67.5 93.0,70.0C94.5,72.5 97.3,73.0 100.0,75.0C102.7,77.0 107.3,79.5 109.0,82.0C110.7,84.5 110.7,87.0 110.0,90.0C109.3,93.0 107.3,97.0 105.0,100.0C102.7,103.0 99.5,106.7 96.0,108.0C92.5,109.3 88.3,109.0 84.0,108.0C79.7,107.0 74.7,104.3 70.0,102.0C65.3,99.7 60.3,97.3 56.0,94.0C51.7,90.7 44.0,87.3 44.0,82.0C44.0,76.7 51.7,68.7 56.0,62.0C60.3,55.3 65.0,50.7 70.0,42.0C75.0,33.3 81.8,12.0 86.0,10.0Z" fill="#404040"/>
<path d="M52.0,76.0C57.3,74.0 72.0,72.2 80.0,72.0C88.0,71.8 95.5,72.7 100.0,75.0C104.5,77.3 107.0,81.8 107.0,86.0C107.0,90.2 104.5,97.3 100.0,100.0C95.5,102.7 86.7,102.7 80.0,102.0C73.3,101.3 65.3,99.0 60.0,96.0C54.7,93.0 49.3,87.3 48.0,84.0C46.7,80.7 46.7,78.0 52.0,76.0Z" fill="#262626"/>
<ellipse cx="93" cy="86.5" rx="11.5" ry="6" fill="#0d0d0d"/>
<path d="M70.0,55.0C70.8,51.7 76.7,44.8 79.0,40.0C81.3,35.2 82.2,30.7 84.0,26.0C85.8,21.3 86.7,14.0 90.0,12.0C93.3,10.0 101.3,11.0 104.0,14.0C106.7,17.0 106.2,25.0 106.0,30.0C105.8,35.0 104.7,40.7 103.0,44.0C101.3,47.3 98.5,49.7 96.0,50.0C93.5,50.3 90.7,45.7 88.0,46.0C85.3,46.3 82.3,49.7 80.0,52.0C77.7,54.3 75.7,59.5 74.0,60.0C72.3,60.5 69.2,58.3 70.0,55.0Z" fill="#262626"/>
<ellipse cx="96" cy="26" rx="7" ry="8" fill="#0d0d0d"/>
<path d="M126.0,52.0C130.5,48.8 141.0,48.5 150.0,49.0C159.0,49.5 174.0,51.2 180.0,55.0C186.0,58.8 182.7,67.2 186.0,72.0C189.3,76.8 192.3,81.7 200.0,84.0C207.7,86.3 222.7,84.3 232.0,86.0C241.3,87.7 251.7,89.3 256.0,94.0C260.3,98.7 263.2,107.3 258.0,114.0C252.8,120.7 234.0,133.0 225.0,134.0C216.0,135.0 210.5,125.0 204.0,120.0C197.5,115.0 193.3,106.3 186.0,104.0C178.7,101.7 167.7,106.7 160.0,106.0C152.3,105.3 145.7,103.3 140.0,100.0C134.3,96.7 128.8,91.3 126.0,86.0C123.2,80.7 123.0,73.7 123.0,68.0C123.0,62.3 121.5,55.2 126.0,52.0Z" fill="#bfbfbf"/>
<path d="M133.0,60.0C135.5,58.2 141.5,59.0 146.0,61.0C150.5,63.0 154.0,67.3 160.0,72.0C166.0,76.7 177.8,84.3 182.0,89.0C186.2,93.7 187.0,97.5 185.0,100.0C183.0,102.5 175.8,105.2 170.0,104.0C164.2,102.8 155.3,96.3 150.0,93.0C144.7,89.7 141.2,87.5 138.0,84.0C134.8,80.5 131.8,76.0 131.0,72.0C130.2,68.0 130.5,61.8 133.0,60.0Z" fill="#d9d9d9"/>
<path d="M140.0,68.0C143.0,68.0 150.7,72.0 156.0,76.0C161.3,80.0 170.3,88.7 172.0,92.0C173.7,95.3 169.7,97.0 166.0,96.0C162.3,95.0 154.7,89.3 150.0,86.0C145.3,82.7 139.7,79.0 138.0,76.0C136.3,73.0 137.0,68.0 140.0,68.0Z" fill="#f2f2f2"/>
<ellipse cx="241" cy="104" rx="8" ry="9" fill="#d9d9d9"/>
<path d="M180.0,44.0C184.7,42.7 198.3,46.3 206.0,50.0C213.7,53.7 223.0,60.7 226.0,66.0C229.0,71.3 227.5,79.3 224.0,82.0C220.5,84.7 211.0,83.7 205.0,82.0C199.0,80.3 192.5,76.0 188.0,72.0C183.5,68.0 179.3,62.7 178.0,58.0C176.7,53.3 175.3,45.3 180.0,44.0Z" fill="#8c8c8c"/>
<path d="M184.0,46.0C187.7,45.3 198.5,50.3 205.0,54.0C211.5,57.7 220.3,63.8 223.0,68.0C225.7,72.2 224.0,77.3 221.0,79.0C218.0,80.7 209.8,79.5 205.0,78.0C200.2,76.5 195.7,73.3 192.0,70.0C188.3,66.7 184.3,62.0 183.0,58.0C181.7,54.0 180.3,46.7 184.0,46.0Z" fill="#737373"/>
<ellipse cx="193" cy="49" rx="13.5" ry="7.5" fill="#595959" transform="rotate(8 193 49)"/>
<ellipse cx="193" cy="48" rx="10.5" ry="5.5" fill="#404040" transform="rotate(8 193 48)"/>
<path d="M155.0,106.0C159.0,101.0 172.5,102.7 180.0,104.0C187.5,105.3 195.8,111.0 200.0,114.0C204.2,117.0 205.0,118.7 205.0,122.0C205.0,125.3 208.2,132.0 200.0,134.0C191.8,136.0 163.5,138.7 156.0,134.0C148.5,129.3 151.0,111.0 155.0,106.0Z" fill="#8c8c8c"/>
<path d="M158.0,110.0C161.2,105.7 172.7,106.8 179.0,108.0C185.3,109.2 192.5,114.3 196.0,117.0C199.5,119.7 200.2,121.2 200.0,124.0C199.8,126.8 201.7,132.3 195.0,134.0C188.3,135.7 166.2,138.0 160.0,134.0C153.8,130.0 154.8,114.3 158.0,110.0Z" fill="#737373"/>
<ellipse cx="161" cy="60" rx="8" ry="5.5" fill="#a6a6a6" transform="rotate(15 161 60)"/>
<ellipse cx="130" cy="122" rx="18" ry="10" fill="#737373"/>
<ellipse cx="131" cy="124" rx="14" ry="7" fill="#595959"/>
<ellipse cx="132" cy="126" rx="10" ry="4.5" fill="#404040"/>
</g></g>
<use href="#rivers"/>
<use href="#basin" fill="none" stroke="#555" stroke-width="1.5" stroke-linejoin="round"/>
<circle cx="123.8" cy="86.7" r="2.8" fill="#3fc00c" stroke="#36a80a" stroke-width="0.4"/>
<circle cx="225.7" cy="108.3" r="2.8" fill="#3fc00c" stroke="#36a80a" stroke-width="0.4"/>
<text x="103.8" y="81.9" font-size="7.1" fill="#1a1a1a">Gongbuganda</text>
<text x="220.0" y="104.1" font-size="7.1" fill="#1a1a1a">Bayi</text>
</g>
<g stroke="#6e6e6e" stroke-width="0.8">
<line x1="100.2" y1="214.2" x2="100.2" y2="217.5"/>
<line x1="100.2" y1="375.1" x2="100.2" y2="378.4"/>
<line x1="191.5" y1="214.2" x2="191.5" y2="217.5"/>
<line x1="191.5" y1="375.1" x2="191.5" y2="378.4"/>
<line x1="15.8" y1="280.9" x2="19.6" y2="280.9"/>
<line x1="257.0" y1="280.9" x2="260.8" y2="280.9"/>
<line x1="15.8" y1="372.2" x2="19.6" y2="372.2"/>
<line x1="257.0" y1="372.2" x2="260.8" y2="372.2"/>
</g>
<text x="100.2" y="210.5" font-size="8.2" fill="#1a1a1a" text-anchor="middle">93°0'0&quot;E</text>
<text x="100.2" y="387.9" font-size="8.2" fill="#1a1a1a" text-anchor="middle">93°0'0&quot;E</text>
<text x="191.5" y="210.5" font-size="8.2" fill="#1a1a1a" text-anchor="middle">94°0'0&quot;E</text>
<text x="191.5" y="387.9" font-size="8.2" fill="#1a1a1a" text-anchor="middle">94°0'0&quot;E</text>
<text x="13.3" y="280.9" font-size="8.2" fill="#1a1a1a" text-anchor="middle" transform="rotate(-90 13.3 280.9)">30°0'0&quot;N</text>
<text x="269.0" y="280.9" font-size="8.2" fill="#1a1a1a" text-anchor="middle" transform="rotate(-90 269.0 280.9)">30°0'0&quot;N</text>
<text x="13.3" y="372.2" font-size="8.2" fill="#1a1a1a" text-anchor="middle" transform="rotate(-90 13.3 372.2)">29°0'0&quot;N</text>
<text x="269.0" y="372.2" font-size="8.2" fill="#1a1a1a" text-anchor="middle" transform="rotate(-90 269.0 372.2)">29°0'0&quot;N</text>
<text x="32.7" y="234.7" font-size="8.2" fill="#000" font-weight="bold" style="stroke:none">Autumn</text>
<use href="#narrow" transform="translate(2.1,204.0)"/>
<use href="#sbar" transform="translate(-1.2,201.3)"/>
<g transform="translate(0.8,201.7)">
<path d="M27.3,126.9L29.9,125.7L31.4,127.2L33.1,126.1L35.7,126.4" fill="none" stroke="#3776e6" stroke-width="0.9"/>
<text x="40.7" y="128.6" font-size="7" fill="#1a1a1a">River</text>
<circle cx="79.7" cy="126.2" r="2.6" fill="#3fc00c" stroke="#36a80a" stroke-width="0.4"/>
<text x="87.5" y="128.6" font-size="7" fill="#1a1a1a">City</text>
<rect x="25.9" y="135.3" width="9.2" height="3.9" fill="#4a72d8" stroke="#7c7c7c" stroke-width="0.7"/>
<text x="38.1" y="139.7" font-size="7" fill="#1a1a1a">8.42 - 38.5</text>
<rect x="25.9" y="144.9" width="9.2" height="3.9" fill="#7d92de" stroke="#7c7c7c" stroke-width="0.7"/>
<text x="38.1" y="149.3" font-size="7" fill="#1a1a1a">38.6 - 61.3</text>
<rect x="25.9" y="154.6" width="9.2" height="3.9" fill="#a7b1df" stroke="#7c7c7c" stroke-width="0.7"/>
<text x="38.1" y="159.0" font-size="7" fill="#1a1a1a">61.4 - 85.2</text>
<rect x="25.9" y="164.3" width="9.2" height="3.9" fill="#c8cad4" stroke="#7c7c7c" stroke-width="0.7"/>
<text x="38.1" y="168.7" font-size="7" fill="#1a1a1a">85.3 - 111</text>
<rect x="75.3" y="135.3" width="9.2" height="3.9" fill="#fbf9c9" stroke="#7c7c7c" stroke-width="0.7"/>
<text x="87.5" y="139.7" font-size="7" fill="#1a1a1a">112 - 137</text>
<rect x="75.3" y="144.9" width="9.2" height="3.9" fill="#f9e5ab" stroke="#7c7c7c" stroke-width="0.7"/>
<text x="87.5" y="149.3" font-size="7" fill="#1a1a1a">138 - 161</text>
<rect x="75.3" y="154.6" width="9.2" height="3.9" fill="#f5c79b" stroke="#7c7c7c" stroke-width="0.7"/>
<text x="87.5" y="159.0" font-size="7" fill="#1a1a1a">162 - 185</text>
<rect x="75.3" y="164.3" width="9.2" height="3.9" fill="#efa382" stroke="#7c7c7c" stroke-width="0.7"/>
<text x="87.5" y="168.7" font-size="7" fill="#1a1a1a">186 - 207</text>
<rect x="126.3" y="144.9" width="9.2" height="3.9" fill="#e17e66" stroke="#7c7c7c" stroke-width="0.7"/>
<text x="138.8" y="149.3" font-size="7" fill="#1a1a1a">208 - 230</text>
<rect x="126.3" y="154.6" width="9.2" height="3.9" fill="#d55b4f" stroke="#7c7c7c" stroke-width="0.7"/>
<text x="138.8" y="159.0" font-size="7" fill="#1a1a1a">231 - 273</text>
</g>
<text x="139.5" y="397.9" font-size="13" fill="#000" text-anchor="middle" font-weight="bold" style="stroke:none">( c )</text>
</g>
<g id="panel-d" class="k">
<rect x="295.8" y="216.3" width="237.8" height="158.4" fill="#fff" stroke="#606060" stroke-width="1.35"/>
<g transform="translate(275.0,204.5)">
<g clip-path="url(#bclip)"><g filter="url(#q3)">
<rect x="0" y="0" width="300" height="200" fill="#0d0d0d"/>
<path d="M140.0,50.0C144.0,47.7 155.3,48.7 160.0,52.0C164.7,55.3 166.7,62.0 168.0,70.0C169.3,78.0 169.3,92.3 168.0,100.0C166.7,107.7 164.7,114.0 160.0,116.0C155.3,118.0 144.3,116.3 140.0,112.0C135.7,107.7 134.7,97.7 134.0,90.0C133.3,82.3 135.0,72.7 136.0,66.0C137.0,59.3 136.0,52.3 140.0,50.0Z" fill="#262626"/>
<path d="M143.0,54.0C146.2,51.3 154.8,53.0 158.0,56.0C161.2,59.0 161.7,65.3 162.0,72.0C162.3,78.7 162.0,90.7 160.0,96.0C158.0,101.3 153.3,103.7 150.0,104.0C146.7,104.3 141.8,103.3 140.0,98.0C138.2,92.7 138.5,79.3 139.0,72.0C139.5,64.7 139.8,56.7 143.0,54.0Z" fill="#404040"/>
<ellipse cx="153" cy="61" rx="3" ry="5" fill="#737373"/>
<ellipse cx="130" cy="46" rx="7" ry="4" fill="#262626"/>
<ellipse cx="136" cy="98" rx="6" ry="10" fill="#262626"/>
<ellipse cx="120.4" cy="62.4" rx="24" ry="19" fill="#262626"/>
<ellipse cx="120.4" cy="62.4" rx="22.5" ry="17.5" fill="#404040"/>
<ellipse cx="120.4" cy="62.4" rx="21" ry="16" fill="#595959"/>
<ellipse cx="120.4" cy="62.4" rx="19.5" ry="14.5" fill="#737373"/>
<ellipse cx="120.4" cy="62.4" rx="18" ry="13" fill="#8c8c8c"/>
<ellipse cx="120.4" cy="62.4" rx="16.5" ry="11.5" fill="#a6a6a6"/>
<ellipse cx="120.6" cy="62.6" rx="15" ry="10.2" fill="#bfbfbf"/>
<ellipse cx="120.8" cy="62.8" rx="13.5" ry="8.8" fill="#d9d9d9"/>
<ellipse cx="121" cy="63" rx="10.5" ry="6.8" fill="#f2f2f2"/>
<path d="M66.0,52.0C69.7,49.0 79.7,46.3 84.0,48.0C88.3,49.7 91.3,56.7 92.0,62.0C92.7,67.3 89.3,73.7 88.0,80.0C86.7,86.3 87.3,96.0 84.0,100.0C80.7,104.0 72.0,106.0 68.0,104.0C64.0,102.0 61.0,94.3 60.0,88.0C59.0,81.7 61.0,72.0 62.0,66.0C63.0,60.0 62.3,55.0 66.0,52.0Z" fill="#262626"/>
<path d="M68.0,56.0C70.8,53.3 78.5,50.8 82.0,52.0C85.5,53.2 88.5,58.3 89.0,63.0C89.5,67.7 86.5,74.5 85.0,80.0C83.5,85.5 82.8,93.0 80.0,96.0C77.2,99.0 70.8,99.7 68.0,98.0C65.2,96.3 63.5,91.0 63.0,86.0C62.5,81.0 64.2,73.0 65.0,68.0C65.8,63.0 65.2,58.7 68.0,56.0Z" fill="#404040"/>
<ellipse cx="79" cy="66" rx="10" ry="14" fill="#595959"/>
<ellipse cx="79.5" cy="64.5" rx="8.5" ry="11" fill="#737373"/>
<ellipse cx="80" cy="63.5" rx="6.5" ry="8" fill="#8c8c8c"/>
<ellipse cx="80" cy="63" rx="4.5" ry="5.5" fill="#a6a6a6"/>
<ellipse cx="80" cy="63" rx="2" ry="2.5" fill="#bfbfbf"/>
<ellipse cx="176" cy="99" rx="16" ry="14" fill="#262626"/>
<ellipse cx="176" cy="99" rx="13" ry="11.5" fill="#404040"/>
<ellipse cx="176" cy="99" rx="11" ry="9.5" fill="#595959"/>
<ellipse cx="176" cy="99.5" rx="9" ry="8" fill="#737373"/>
<ellipse cx="176" cy="100" rx="5" ry="4.5" fill="#8c8c8c"/>
<path d="M140.0,106.0C143.7,103.3 152.3,101.7 160.0,102.0C167.7,102.3 181.0,104.3 186.0,108.0C191.0,111.7 191.7,119.7 190.0,124.0C188.3,128.3 182.7,133.0 176.0,134.0C169.3,135.0 156.3,132.7 150.0,130.0C143.7,127.3 139.7,122.0 138.0,118.0C136.3,114.0 136.3,108.7 140.0,106.0Z" fill="#262626"/>
<path d="M143.0,108.0C146.0,105.8 153.2,104.5 160.0,105.0C166.8,105.5 179.7,107.8 184.0,111.0C188.3,114.2 187.7,120.5 186.0,124.0C184.3,127.5 179.7,131.3 174.0,132.0C168.3,132.7 157.3,130.3 152.0,128.0C146.7,125.7 143.5,121.3 142.0,118.0C140.5,114.7 140.0,110.2 143.0,108.0Z" fill="#404040"/>
<path d="M145.0,110.0C147.5,108.3 154.0,107.3 160.0,108.0C166.0,108.7 177.3,111.3 181.0,114.0C184.7,116.7 183.5,121.3 182.0,124.0C180.5,126.7 176.7,129.7 172.0,130.0C167.3,130.3 158.5,128.0 154.0,126.0C149.5,124.0 146.5,120.7 145.0,118.0C143.5,115.3 142.5,111.7 145.0,110.0Z" fill="#595959"/>
<path d="M147.0,112.0C149.0,110.8 154.8,110.2 160.0,111.0C165.2,111.8 175.0,114.8 178.0,117.0C181.0,119.2 179.3,121.8 178.0,124.0C176.7,126.2 173.7,129.8 170.0,130.0C166.3,130.2 159.7,127.0 156.0,125.0C152.3,123.0 149.5,120.2 148.0,118.0C146.5,115.8 145.0,113.2 147.0,112.0Z" fill="#737373"/>
<ellipse cx="155" cy="119" rx="7" ry="3.5" fill="#8c8c8c"/>
<ellipse cx="152.5" cy="120" rx="3.5" ry="2" fill="#a6a6a6"/>
<ellipse cx="152" cy="120.3" rx="2" ry="1.2" fill="#bfbfbf"/>
<ellipse cx="217" cy="88" rx="5" ry="9" fill="#262626"/>
<ellipse cx="217" cy="88" rx="3.5" ry="7" fill="#404040"/>
<ellipse cx="219" cy="124" rx="9" ry="10" fill="#262626"/>
<ellipse cx="219" cy="124" rx="8" ry="9" fill="#404040"/>
<ellipse cx="219" cy="125" rx="7" ry="8" fill="#595959"/>
<ellipse cx="219" cy="126" rx="6" ry="7" fill="#737373"/>
<ellipse cx="240" cy="102" rx="8" ry="15" fill="#262626"/>
<ellipse cx="240" cy="102" rx="7" ry="14" fill="#404040"/>
<ellipse cx="240" cy="102" rx="6" ry="13" fill="#595959"/>
<ellipse cx="240" cy="101" rx="4.5" ry="11" fill="#737373"/>
</g></g>
<use href="#rivers"/>
<use href="#basin" fill="none" stroke="#555" stroke-width="1.5" stroke-linejoin="round"/>
<circle cx="123.8" cy="86.7" r="2.8" fill="#3fc00c" stroke="#36a80a" stroke-width="0.4"/>
<circle cx="225.7" cy="108.3" r="2.8" fill="#3fc00c" stroke="#36a80a" stroke-width="0.4"/>
<text x="103.8" y="81.9" font-size="7.1" fill="#1a1a1a">Gongbuganda</text>
<text x="220.0" y="104.1" font-size="7.1" fill="#1a1a1a">Bayi</text>
</g>
<g stroke="#6e6e6e" stroke-width="0.8">
<line x1="376.4" y1="213.0" x2="376.4" y2="216.3"/>
<line x1="376.4" y1="374.7" x2="376.4" y2="378.0"/>
<line x1="467.7" y1="213.0" x2="467.7" y2="216.3"/>
<line x1="467.7" y1="374.7" x2="467.7" y2="378.0"/>
<line x1="292.0" y1="280.9" x2="295.8" y2="280.9"/>
<line x1="533.6" y1="280.9" x2="537.4" y2="280.9"/>
<line x1="292.0" y1="372.2" x2="295.8" y2="372.2"/>
<line x1="533.6" y1="372.2" x2="537.4" y2="372.2"/>
</g>
<text x="376.4" y="209.3" font-size="8.2" fill="#1a1a1a" text-anchor="middle">93°0'0&quot;E</text>
<text x="376.4" y="387.5" font-size="8.2" fill="#1a1a1a" text-anchor="middle">93°0'0&quot;E</text>
<text x="467.7" y="209.3" font-size="8.2" fill="#1a1a1a" text-anchor="middle">94°0'0&quot;E</text>
<text x="467.7" y="387.5" font-size="8.2" fill="#1a1a1a" text-anchor="middle">94°0'0&quot;E</text>
<text x="289.5" y="280.9" font-size="8.2" fill="#1a1a1a" text-anchor="middle" transform="rotate(-90 289.5 280.9)">30°0'0&quot;N</text>
<text x="545.6" y="280.9" font-size="8.2" fill="#1a1a1a" text-anchor="middle" transform="rotate(-90 545.6 280.9)">30°0'0&quot;N</text>
<text x="289.5" y="372.2" font-size="8.2" fill="#1a1a1a" text-anchor="middle" transform="rotate(-90 289.5 372.2)">29°0'0&quot;N</text>
<text x="545.6" y="372.2" font-size="8.2" fill="#1a1a1a" text-anchor="middle" transform="rotate(-90 545.6 372.2)">29°0'0&quot;N</text>
<text x="307.2" y="232.5" font-size="8.2" fill="#000" font-weight="bold" style="stroke:none">Winter</text>
<use href="#narrow" transform="translate(279.7,200.9)"/>
<use href="#sbar" transform="translate(274.4,198.6)"/>
<g transform="translate(278.0,200.0)">
<path d="M27.3,126.9L29.9,125.7L31.4,127.2L33.1,126.1L35.7,126.4" fill="none" stroke="#3776e6" stroke-width="0.9"/>
<text x="40.7" y="128.6" font-size="7" fill="#1a1a1a">River</text>
<circle cx="79.7" cy="126.2" r="2.6" fill="#3fc00c" stroke="#36a80a" stroke-width="0.4"/>
<text x="87.5" y="128.6" font-size="7" fill="#1a1a1a">City</text>
<rect x="25.9" y="135.3" width="9.2" height="3.9" fill="#4a72d8" stroke="#7c7c7c" stroke-width="0.7"/>
<text x="38.1" y="139.7" font-size="7" fill="#1a1a1a">−3.8 - 0.9</text>
<rect x="25.9" y="144.9" width="9.2" height="3.9" fill="#7d92de" stroke="#7c7c7c" stroke-width="0.7"/>
<text x="38.1" y="149.3" font-size="7" fill="#1a1a1a">1 - 3.2</text>
<rect x="25.9" y="154.6" width="9.2" height="3.9" fill="#a7b1df" stroke="#7c7c7c" stroke-width="0.7"/>
<text x="38.1" y="159.0" font-size="7" fill="#1a1a1a">3.3 - 5.8</text>
<rect x="25.9" y="164.3" width="9.2" height="3.9" fill="#c8cad4" stroke="#7c7c7c" stroke-width="0.7"/>
<text x="38.1" y="168.7" font-size="7" fill="#1a1a1a">5.9 - 8.9</text>
<rect x="75.3" y="135.3" width="9.2" height="3.9" fill="#fbf9c9" stroke="#7c7c7c" stroke-width="0.7"/>
<text x="87.5" y="139.7" font-size="7" fill="#1a1a1a">9 - 12.4</text>
<rect x="75.3" y="144.9" width="9.2" height="3.9" fill="#f9e5ab" stroke="#7c7c7c" stroke-width="0.7"/>
<text x="87.5" y="149.3" font-size="7" fill="#1a1a1a">12.5 - 16.3</text>
<rect x="75.3" y="154.6" width="9.2" height="3.9" fill="#f5c79b" stroke="#7c7c7c" stroke-width="0.7"/>
<text x="87.5" y="159.0" font-size="7" fill="#1a1a1a">16.4 - 20.7</text>
<rect x="75.3" y="164.3" width="9.2" height="3.9" fill="#efa382" stroke="#7c7c7c" stroke-width="0.7"/>
<text x="87.5" y="168.7" font-size="7" fill="#1a1a1a">20.8 - 25.7</text>
<rect x="126.3" y="144.9" width="9.2" height="3.9" fill="#e17e66" stroke="#7c7c7c" stroke-width="0.7"/>
<text x="138.8" y="149.3" font-size="7" fill="#1a1a1a">25.8 - 31.1</text>
<rect x="126.3" y="154.6" width="9.2" height="3.9" fill="#d55b4f" stroke="#7c7c7c" stroke-width="0.7"/>
<text x="138.8" y="159.0" font-size="7" fill="#1a1a1a">31.2 - 37.6</text>
</g>
<text x="415.9" y="397.5" font-size="13" fill="#000" text-anchor="middle" font-weight="bold" style="stroke:none">( d )</text>
</g>
<g id="panel-e" class="k">
<rect x="19.6" y="416.3" width="237.3" height="158.4" fill="#fff" stroke="#606060" stroke-width="1.35"/>
<g transform="translate(-1.2,401.7)">
<g clip-path="url(#bclip)"><g filter="url(#q2)">
<rect x="0" y="0" width="300" height="200" fill="#8c8c8c"/>
<path d="M182.0,110.0C183.7,105.5 194.7,107.3 200.0,108.0C205.3,108.7 209.7,112.3 214.0,114.0C218.3,115.7 223.7,114.5 226.0,118.0C228.3,121.5 234.0,132.2 228.0,135.0C222.0,137.8 197.7,139.2 190.0,135.0C182.3,130.8 180.3,114.5 182.0,110.0Z" fill="#737373"/>
<path d="M150.0,110.0C152.7,105.7 162.3,104.7 166.0,106.0C169.7,107.3 171.7,113.3 172.0,118.0C172.3,122.7 171.7,131.7 168.0,134.0C164.3,136.3 153.0,136.0 150.0,132.0C147.0,128.0 147.3,114.3 150.0,110.0Z" fill="#737373"/>
<path d="M60.0,62.0C59.7,59.3 63.3,53.7 66.0,50.0C68.7,46.3 73.3,44.0 76.0,40.0C78.7,36.0 79.7,30.7 82.0,26.0C84.3,21.3 85.3,14.0 90.0,12.0C94.7,10.0 105.0,10.3 110.0,14.0C115.0,17.7 119.0,28.7 120.0,34.0C121.0,39.3 119.3,43.3 116.0,46.0C112.7,48.7 104.7,49.3 100.0,50.0C95.3,50.7 91.7,48.7 88.0,50.0C84.3,51.3 81.3,55.3 78.0,58.0C74.7,60.7 71.0,65.3 68.0,66.0C65.0,66.7 60.3,64.7 60.0,62.0Z" fill="#737373"/>
<path d="M64.0,58.0C64.0,55.8 67.7,51.3 70.0,48.0C72.3,44.7 75.7,41.7 78.0,38.0C80.3,34.3 81.8,30.3 84.0,26.0C86.2,21.7 87.0,14.0 91.0,12.0C95.0,10.0 103.7,10.5 108.0,14.0C112.3,17.5 116.2,28.2 117.0,33.0C117.8,37.8 115.8,40.8 113.0,43.0C110.2,45.2 104.2,45.5 100.0,46.0C95.8,46.5 91.7,44.8 88.0,46.0C84.3,47.2 81.0,50.5 78.0,53.0C75.0,55.5 72.3,60.2 70.0,61.0C67.7,61.8 64.0,60.2 64.0,58.0Z" fill="#595959"/>
<path d="M69.0,53.0C69.2,51.2 72.2,47.8 74.0,45.0C75.8,42.2 78.0,39.3 80.0,36.0C82.0,32.7 84.0,29.0 86.0,25.0C88.0,21.0 88.7,13.8 92.0,12.0C95.3,10.2 102.3,10.7 106.0,14.0C109.7,17.3 113.3,27.7 114.0,32.0C114.7,36.3 112.5,38.3 110.0,40.0C107.5,41.7 102.7,41.7 99.0,42.0C95.3,42.3 91.2,41.0 88.0,42.0C84.8,43.0 82.5,45.7 80.0,48.0C77.5,50.3 74.8,55.2 73.0,56.0C71.2,56.8 68.8,54.8 69.0,53.0Z" fill="#404040"/>
<path d="M75.0,47.0C74.5,46.7 77.7,43.3 79.0,41.0C80.3,38.7 81.5,35.8 83.0,33.0C84.5,30.2 86.5,27.5 88.0,24.0C89.5,20.5 89.3,13.7 92.0,12.0C94.7,10.3 101.0,11.0 104.0,14.0C107.0,17.0 109.7,26.3 110.0,30.0C110.3,33.7 108.0,34.8 106.0,36.0C104.0,37.2 100.8,37.2 98.0,37.5C95.2,37.8 91.7,37.1 89.0,38.0C86.3,38.9 84.3,41.5 82.0,43.0C79.7,44.5 75.5,47.3 75.0,47.0Z" fill="#262626"/>
<path d="M84.0,32.0C84.2,30.0 87.5,25.3 89.0,22.0C90.5,18.7 90.7,13.3 93.0,12.0C95.3,10.7 100.7,11.3 103.0,14.0C105.3,16.7 107.2,25.0 107.0,28.0C106.8,31.0 104.2,31.2 102.0,32.0C99.8,32.8 96.3,32.7 94.0,33.0C91.7,33.3 89.7,34.2 88.0,34.0C86.3,33.8 83.8,34.0 84.0,32.0Z" fill="#0d0d0d"/>
<ellipse cx="131" cy="30" rx="15" ry="16" fill="#737373"/>
<ellipse cx="131" cy="30" rx="13" ry="13" fill="#595959"/>
<ellipse cx="131" cy="30" rx="11" ry="10.5" fill="#404040"/>
<ellipse cx="131" cy="30" rx="9" ry="8" fill="#262626"/>
<ellipse cx="131" cy="30" rx="6" ry="5" fill="#0d0d0d"/>
<ellipse cx="193" cy="46" rx="26" ry="17" fill="#737373" transform="rotate(8 193 46)"/>
<ellipse cx="193" cy="46" rx="22" ry="14" fill="#595959" transform="rotate(8 193 46)"/>
<ellipse cx="193" cy="46" rx="18" ry="11.5" fill="#404040" transform="rotate(8 193 46)"/>
<ellipse cx="193" cy="45.5" rx="14" ry="8.5" fill="#262626" transform="rotate(8 193 45.5)"/>
<path d="M24.0,80.0C28.3,77.3 42.3,76.3 50.0,74.0C57.7,71.7 64.3,68.0 70.0,66.0C75.7,64.0 79.0,63.0 84.0,62.0C89.0,61.0 95.3,61.3 100.0,60.0C104.7,58.7 107.8,55.8 112.0,54.0C116.2,52.2 119.5,50.2 125.0,49.0C130.5,47.8 137.8,47.0 145.0,47.0C152.2,47.0 161.5,47.2 168.0,49.0C174.5,50.8 181.0,54.5 184.0,58.0C187.0,61.5 183.3,66.7 186.0,70.0C188.7,73.3 193.5,75.7 200.0,78.0C206.5,80.3 215.3,82.0 225.0,84.0C234.7,86.0 252.5,84.0 258.0,90.0C263.5,96.0 261.7,115.7 258.0,120.0C254.3,124.3 243.0,117.3 236.0,116.0C229.0,114.7 222.0,113.7 216.0,112.0C210.0,110.3 207.7,107.3 200.0,106.0C192.3,104.7 176.3,104.0 170.0,104.0C163.7,104.0 166.2,105.2 162.0,106.0C157.8,106.8 150.7,108.8 145.0,109.0C139.3,109.2 133.2,108.7 128.0,107.0C122.8,105.3 118.0,101.8 114.0,99.0C110.0,96.2 109.0,92.8 104.0,90.0C99.0,87.2 93.0,82.3 84.0,82.0C75.0,81.7 60.0,86.7 50.0,88.0C40.0,89.3 28.3,91.3 24.0,90.0C19.7,88.7 19.7,82.7 24.0,80.0Z" fill="#a6a6a6"/>
<ellipse cx="86" cy="70" rx="11" ry="5" fill="#bfbfbf" transform="rotate(-5 86 70)"/>
<path d="M101.0,70.0C101.7,66.3 106.0,62.7 110.0,60.0C114.0,57.3 119.2,55.3 125.0,54.0C130.8,52.7 138.0,52.0 145.0,52.0C152.0,52.0 161.2,52.7 167.0,54.0C172.8,55.3 177.8,57.7 180.0,60.0C182.2,62.3 181.0,65.0 180.0,68.0C179.0,71.0 171.5,75.7 174.0,78.0C176.5,80.3 187.7,80.3 195.0,82.0C202.3,83.7 214.3,85.7 218.0,88.0C221.7,90.3 220.8,94.7 217.0,96.0C213.2,97.3 202.8,96.2 195.0,96.0C187.2,95.8 175.5,94.2 170.0,95.0C164.5,95.8 166.2,99.5 162.0,101.0C157.8,102.5 150.3,104.0 145.0,104.0C139.7,104.0 134.5,102.8 130.0,101.0C125.5,99.2 122.0,96.2 118.0,93.0C114.0,89.8 108.8,85.8 106.0,82.0C103.2,78.2 100.3,73.7 101.0,70.0Z" fill="#bfbfbf"/>
<ellipse cx="144" cy="77.5" rx="27" ry="23" fill="#d9d9d9" transform="rotate(-15 144 77.5)"/>
<ellipse cx="143" cy="77.5" rx="22" ry="19" fill="#f2f2f2" transform="rotate(-15 143 77.5)"/>
<path d="M52.0,114.0C52.3,108.5 53.3,100.0 56.0,95.0C58.7,90.0 63.7,86.9 68.0,84.0C72.3,81.1 77.3,79.0 82.0,77.5C86.7,76.0 90.8,75.2 96.0,75.0C101.2,74.8 108.2,73.8 113.0,76.0C117.8,78.2 123.0,83.0 125.0,88.0C127.0,93.0 126.5,101.5 125.0,106.0C123.5,110.5 119.5,113.5 116.0,115.0C112.5,116.5 107.7,114.8 104.0,115.0C100.3,115.2 96.7,114.5 94.0,116.0C91.3,117.5 91.0,121.7 88.0,124.0C85.0,126.3 81.7,129.3 76.0,130.0C70.3,130.7 58.0,130.7 54.0,128.0C50.0,125.3 51.7,119.5 52.0,114.0Z" fill="#737373"/>
<path d="M56.0,112.0C56.3,107.5 57.7,101.2 60.0,97.0C62.3,92.8 66.2,89.7 70.0,87.0C73.8,84.3 78.7,82.4 83.0,81.0C87.3,79.6 91.3,78.8 96.0,78.5C100.7,78.2 106.8,77.8 111.0,79.5C115.2,81.2 119.3,84.9 121.0,89.0C122.7,93.1 122.5,100.3 121.0,104.0C119.5,107.7 115.5,110.0 112.0,111.0C108.5,112.0 103.3,109.8 100.0,110.0C96.7,110.2 94.3,110.3 92.0,112.0C89.7,113.7 88.7,117.7 86.0,120.0C83.3,122.3 80.7,125.3 76.0,126.0C71.3,126.7 61.3,126.3 58.0,124.0C54.7,121.7 55.7,116.5 56.0,112.0Z" fill="#595959"/>
<path d="M60.0,111.0C60.2,107.5 61.0,102.5 63.0,99.0C65.0,95.5 68.5,92.5 72.0,90.0C75.5,87.5 80.0,85.4 84.0,84.0C88.0,82.6 91.7,81.8 96.0,81.5C100.3,81.2 106.4,81.1 110.0,82.5C113.6,83.9 116.3,86.8 117.5,90.0C118.7,93.2 118.6,99.2 117.0,102.0C115.4,104.8 111.2,106.3 108.0,107.0C104.8,107.7 101.0,105.8 98.0,106.0C95.0,106.2 92.3,106.3 90.0,108.0C87.7,109.7 86.3,113.7 84.0,116.0C81.7,118.3 79.7,121.3 76.0,122.0C72.3,122.7 64.7,121.8 62.0,120.0C59.3,118.2 59.8,114.5 60.0,111.0Z" fill="#404040"/>
<path d="M63.0,110.0C63.0,107.5 64.2,103.8 66.0,101.0C67.8,98.2 70.8,95.3 74.0,93.0C77.2,90.7 81.3,88.4 85.0,87.0C88.7,85.6 92.2,84.8 96.0,84.5C99.8,84.2 105.0,84.4 108.0,85.5C111.0,86.6 113.2,88.6 114.0,91.0C114.8,93.4 114.7,98.0 113.0,100.0C111.3,102.0 106.8,102.7 104.0,103.0C101.2,103.3 98.7,101.7 96.0,102.0C93.3,102.3 90.3,103.3 88.0,105.0C85.7,106.7 84.0,109.8 82.0,112.0C80.0,114.2 78.7,117.3 76.0,118.0C73.3,118.7 68.2,117.3 66.0,116.0C63.8,114.7 63.0,112.5 63.0,110.0Z" fill="#262626"/>
<path d="M50.0,100.0C51.7,95.5 55.7,96.7 60.0,97.0C64.3,97.3 72.7,99.5 76.0,102.0C79.3,104.5 79.7,108.3 80.0,112.0C80.3,115.7 83.0,122.0 78.0,124.0C73.0,126.0 54.7,128.0 50.0,124.0C45.3,120.0 48.3,104.5 50.0,100.0Z" fill="#404040"/>
<path d="M57.0,104.0C58.7,100.7 64.7,100.7 68.0,101.0C71.3,101.3 75.7,102.7 77.0,106.0C78.3,109.3 79.2,118.5 76.0,121.0C72.8,123.5 61.2,123.8 58.0,121.0C54.8,118.2 55.3,107.3 57.0,104.0Z" fill="#262626"/>
<path d="M66.9,109.4C66.5,107.6 68.6,105.1 70.2,102.9C71.8,100.7 74.2,98.3 76.7,96.3C79.2,94.3 82.2,92.2 85.5,90.9C88.8,89.6 92.8,88.9 96.4,88.7C100.0,88.5 105.0,88.9 107.3,89.8C109.6,90.7 110.5,92.8 110.5,94.2C110.5,95.7 109.6,98.0 107.3,98.5C105.0,99.0 100.0,96.9 96.4,97.4C92.8,98.0 88.4,99.8 85.5,101.8C82.6,103.8 81.1,107.4 78.9,109.4C76.7,111.4 74.4,113.8 72.4,113.8C70.4,113.8 67.3,111.2 66.9,109.4Z" fill="#0d0d0d"/>
<path d="M68.0,110.0C68.3,107.5 70.3,103.5 72.0,101.0C73.7,98.5 75.7,96.8 78.0,95.0C80.3,93.2 82.9,91.7 86.0,90.5C89.1,89.3 92.9,88.2 96.4,88.0C100.0,87.8 104.9,88.0 107.3,89.0C109.7,90.0 110.7,92.2 111.0,94.2C111.3,96.2 110.8,99.0 109.0,101.0C107.2,103.0 103.2,105.0 100.0,106.0C96.8,107.0 93.0,106.3 90.0,107.0C87.0,107.7 84.3,108.5 82.0,110.0C79.7,111.5 78.0,115.0 76.0,116.0C74.0,117.0 71.3,117.0 70.0,116.0C68.7,115.0 67.7,112.5 68.0,110.0Z" fill="#0d0d0d"/>
<ellipse cx="132" cy="122" rx="14" ry="9" fill="#737373"/>
<ellipse cx="132" cy="124" rx="11" ry="7" fill="#595959"/>
<ellipse cx="218" cy="126" rx="8" ry="7" fill="#737373"/>
</g></g>
<use href="#rivers"/>
<use href="#basin" fill="none" stroke="#555" stroke-width="1.5" stroke-linejoin="round"/>
<circle cx="123.8" cy="86.7" r="2.8" fill="#3fc00c" stroke="#36a80a" stroke-width="0.4"/>
<circle cx="225.7" cy="108.3" r="2.8" fill="#3fc00c" stroke="#36a80a" stroke-width="0.4"/>
<text x="103.8" y="81.9" font-size="7.1" fill="#1a1a1a">Gongbuganda</text>
<text x="220.0" y="104.1" font-size="7.1" fill="#1a1a1a">Bayi</text>
</g>
<g stroke="#6e6e6e" stroke-width="0.8">
<line x1="100.2" y1="413.0" x2="100.2" y2="416.3"/>
<line x1="100.2" y1="574.7" x2="100.2" y2="578.0"/>
<line x1="191.5" y1="413.0" x2="191.5" y2="416.3"/>
<line x1="191.5" y1="574.7" x2="191.5" y2="578.0"/>
<line x1="15.8" y1="478.1" x2="19.6" y2="478.1"/>
<line x1="256.9" y1="478.1" x2="260.7" y2="478.1"/>
<line x1="15.8" y1="569.4" x2="19.6" y2="569.4"/>
<line x1="256.9" y1="569.4" x2="260.7" y2="569.4"/>
</g>
<text x="100.2" y="409.3" font-size="8.2" fill="#1a1a1a" text-anchor="middle">93°0'0&quot;E</text>
<text x="100.2" y="587.5" font-size="8.2" fill="#1a1a1a" text-anchor="middle">93°0'0&quot;E</text>
<text x="191.5" y="409.3" font-size="8.2" fill="#1a1a1a" text-anchor="middle">94°0'0&quot;E</text>
<text x="191.5" y="587.5" font-size="8.2" fill="#1a1a1a" text-anchor="middle">94°0'0&quot;E</text>
<text x="13.3" y="478.1" font-size="8.2" fill="#1a1a1a" text-anchor="middle" transform="rotate(-90 13.3 478.1)">30°0'0&quot;N</text>
<text x="268.9" y="478.1" font-size="8.2" fill="#1a1a1a" text-anchor="middle" transform="rotate(-90 268.9 478.1)">30°0'0&quot;N</text>
<text x="13.3" y="569.4" font-size="8.2" fill="#1a1a1a" text-anchor="middle" transform="rotate(-90 13.3 569.4)">29°0'0&quot;N</text>
<text x="268.9" y="569.4" font-size="8.2" fill="#1a1a1a" text-anchor="middle" transform="rotate(-90 268.9 569.4)">29°0'0&quot;N</text>
<text x="27.3" y="435.4" font-size="8.2" fill="#000" font-weight="bold" style="stroke:none">Wet season</text>
<use href="#narrow" transform="translate(3.3,402.4)"/>
<use href="#sbar" transform="translate(-1.2,401.7)"/>
<g transform="translate(0.8,400.5)">
<path d="M27.3,126.9L29.9,125.7L31.4,127.2L33.1,126.1L35.7,126.4" fill="none" stroke="#3776e6" stroke-width="0.9"/>
<text x="40.7" y="128.6" font-size="7" fill="#1a1a1a">River</text>
<circle cx="79.7" cy="126.2" r="2.6" fill="#3fc00c" stroke="#36a80a" stroke-width="0.4"/>
<text x="87.5" y="128.6" font-size="7" fill="#1a1a1a">City</text>
<rect x="25.9" y="135.3" width="9.2" height="3.9" fill="#4a72d8" stroke="#7c7c7c" stroke-width="0.7"/>
<text x="38.1" y="139.7" font-size="7" fill="#1a1a1a">45.8 - 212</text>
<rect x="25.9" y="144.9" width="9.2" height="3.9" fill="#7d92de" stroke="#7c7c7c" stroke-width="0.7"/>
<text x="38.1" y="149.3" font-size="7" fill="#1a1a1a">213 - 326</text>
<rect x="25.9" y="154.6" width="9.2" height="3.9" fill="#a7b1df" stroke="#7c7c7c" stroke-width="0.7"/>
<text x="38.1" y="159.0" font-size="7" fill="#1a1a1a">327 - 449</text>
<rect x="25.9" y="164.3" width="9.2" height="3.9" fill="#c8cad4" stroke="#7c7c7c" stroke-width="0.7"/>
<text x="38.1" y="168.7" font-size="7" fill="#1a1a1a">450 - 572</text>
<rect x="75.3" y="135.3" width="9.2" height="3.9" fill="#fbf9c9" stroke="#7c7c7c" stroke-width="0.7"/>
<text x="87.5" y="139.7" font-size="7" fill="#1a1a1a">573 - 672</text>
<rect x="75.3" y="144.9" width="9.2" height="3.9" fill="#f9e5ab" stroke="#7c7c7c" stroke-width="0.7"/>
<text x="87.5" y="149.3" font-size="7" fill="#1a1a1a">673 - 757</text>
<rect x="75.3" y="154.6" width="9.2" height="3.9" fill="#f5c79b" stroke="#7c7c7c" stroke-width="0.7"/>
<text x="87.5" y="159.0" font-size="7" fill="#1a1a1a">758 - 852</text>
<rect x="75.3" y="164.3" width="9.2" height="3.9" fill="#efa382" stroke="#7c7c7c" stroke-width="0.7"/>
<text x="87.5" y="168.7" font-size="7" fill="#1a1a1a">853 - 966</text>
<rect x="126.3" y="144.9" width="9.2" height="3.9" fill="#e17e66" stroke="#7c7c7c" stroke-width="0.7"/>
<text x="138.8" y="149.3" font-size="7" fill="#1a1a1a">967 - 1113</text>
<rect x="126.3" y="154.6" width="9.2" height="3.9" fill="#d55b4f" stroke="#7c7c7c" stroke-width="0.7"/>
<text x="138.8" y="159.0" font-size="7" fill="#1a1a1a">1114 - 1255</text>
</g>
<text x="139.4" y="597.5" font-size="13" fill="#000" text-anchor="middle" font-weight="bold" style="stroke:none">( e )</text>
</g>
<g id="panel-f" class="k">
<rect x="295.7" y="414.9" width="237.9" height="158.4" fill="#fff" stroke="#606060" stroke-width="1.35"/>
<g transform="translate(275.0,402.5)">
<g clip-path="url(#bclip)"><g filter="url(#q3)">
<rect x="0" y="0" width="300" height="200" fill="#404040"/>
<path d="M20.0,76.0C23.3,73.0 37.0,75.0 44.0,72.0C51.0,69.0 56.3,64.0 62.0,58.0C67.7,52.0 73.7,43.7 78.0,36.0C82.3,28.3 77.7,16.0 88.0,12.0C98.3,8.0 130.5,7.3 140.0,12.0C149.5,16.7 146.7,35.0 145.0,40.0C143.3,45.0 135.8,42.0 130.0,42.0C124.2,42.0 115.7,40.0 110.0,40.0C104.3,40.0 100.3,40.0 96.0,42.0C91.7,44.0 88.3,48.0 84.0,52.0C79.7,56.0 75.7,61.3 70.0,66.0C64.3,70.7 57.7,76.0 50.0,80.0C42.3,84.0 29.0,90.7 24.0,90.0C19.0,89.3 16.7,79.0 20.0,76.0Z" fill="#262626"/>
<ellipse cx="98" cy="25" rx="9" ry="7" fill="#0d0d0d"/>
<path d="M92.0,48.0C98.0,45.3 102.3,45.7 112.0,46.0C121.7,46.3 139.7,48.7 150.0,50.0C160.3,51.3 170.0,50.3 174.0,54.0C178.0,57.7 178.0,68.7 174.0,72.0C170.0,75.3 159.7,73.3 150.0,74.0C140.3,74.7 124.3,76.0 116.0,76.0C107.7,76.0 105.3,75.3 100.0,74.0C94.7,72.7 88.0,70.0 84.0,68.0C80.0,66.0 74.7,65.3 76.0,62.0C77.3,58.7 86.0,50.7 92.0,48.0Z" fill="#595959"/>
<path d="M48.0,76.0C54.0,74.3 70.7,73.7 80.0,74.0C89.3,74.3 99.3,75.7 104.0,78.0C108.7,80.3 108.7,84.7 108.0,88.0C107.3,91.3 104.7,96.0 100.0,98.0C95.3,100.0 86.7,100.3 80.0,100.0C73.3,99.7 66.0,98.7 60.0,96.0C54.0,93.3 46.0,87.3 44.0,84.0C42.0,80.7 42.0,77.7 48.0,76.0Z" fill="#262626"/>
<ellipse cx="87.6" cy="87.5" rx="12" ry="7" fill="#0d0d0d"/>
<path d="M112.0,100.0C116.7,94.7 134.3,94.0 140.0,96.0C145.7,98.0 146.0,106.3 146.0,112.0C146.0,117.7 145.7,127.3 140.0,130.0C134.3,132.7 116.7,133.0 112.0,128.0C107.3,123.0 107.3,105.3 112.0,100.0Z" fill="#595959"/>
<path d="M22.0,80.0C25.0,77.7 35.3,76.7 40.0,78.0C44.7,79.3 50.0,85.0 50.0,88.0C50.0,91.0 44.7,95.3 40.0,96.0C35.3,96.7 25.0,94.7 22.0,92.0C19.0,89.3 19.0,82.3 22.0,80.0Z" fill="#595959"/>
<path d="M55.0,100.0C59.2,97.7 74.8,97.0 80.0,98.0C85.2,99.0 86.3,103.7 86.0,106.0C85.7,108.3 83.2,111.0 78.0,112.0C72.8,113.0 58.8,114.0 55.0,112.0C51.2,110.0 50.8,102.3 55.0,100.0Z" fill="#595959"/>
<path d="M54.0,103.0C58.3,101.0 75.7,100.5 80.0,102.0C84.3,103.5 84.3,110.0 80.0,112.0C75.7,114.0 58.3,115.5 54.0,114.0C49.7,112.5 49.7,105.0 54.0,103.0Z" fill="#737373"/>
<path d="M50.0,108.0C54.0,105.2 69.7,104.3 74.0,107.0C78.3,109.7 80.0,121.2 76.0,124.0C72.0,126.8 54.3,126.7 50.0,124.0C45.7,121.3 46.0,110.8 50.0,108.0Z" fill="#8c8c8c"/>
<ellipse cx="62" cy="118" rx="7" ry="4" fill="#a6a6a6"/>
<path d="M176.0,44.0C180.0,39.7 194.3,43.3 200.0,46.0C205.7,48.7 209.3,54.7 210.0,60.0C210.7,65.3 206.3,73.0 204.0,78.0C201.7,83.0 197.0,85.7 196.0,90.0C195.0,94.3 200.7,101.0 198.0,104.0C195.3,107.0 186.0,108.7 180.0,108.0C174.0,107.3 165.3,104.7 162.0,100.0C158.7,95.3 157.7,84.7 160.0,80.0C162.3,75.3 173.3,78.0 176.0,72.0C178.7,66.0 172.0,48.3 176.0,44.0Z" fill="#262626"/>
<ellipse cx="172" cy="95" rx="7" ry="5" fill="#0d0d0d" transform="rotate(20 172 95)"/>
<ellipse cx="227" cy="128" rx="51" ry="70" fill="#404040"/>
<ellipse cx="227" cy="128" rx="46.5" ry="64" fill="#595959"/>
<ellipse cx="227" cy="128" rx="42" ry="58" fill="#737373"/>
<ellipse cx="227" cy="128" rx="37" ry="47" fill="#8c8c8c"/>
<ellipse cx="227" cy="128" rx="32.5" ry="39" fill="#a6a6a6"/>
<ellipse cx="227" cy="128" rx="28" ry="31" fill="#bfbfbf"/>
<ellipse cx="227" cy="128" rx="22" ry="23" fill="#d9d9d9"/>
<ellipse cx="227" cy="128" rx="16" ry="16" fill="#f2f2f2"/>
<ellipse cx="244" cy="100" rx="6" ry="7" fill="#bfbfbf"/>
</g></g>
<use href="#rivers"/>
<use href="#basin" fill="none" stroke="#555" stroke-width="1.5" stroke-linejoin="round"/>
<circle cx="123.8" cy="86.7" r="2.8" fill="#3fc00c" stroke="#36a80a" stroke-width="0.4"/>
<circle cx="225.7" cy="108.3" r="2.8" fill="#3fc00c" stroke="#36a80a" stroke-width="0.4"/>
<text x="103.8" y="81.9" font-size="7.1" fill="#1a1a1a">Gongbuganda</text>
<text x="220.0" y="104.1" font-size="7.1" fill="#1a1a1a">Bayi</text>
</g>
<g stroke="#6e6e6e" stroke-width="0.8">
<line x1="376.4" y1="411.6" x2="376.4" y2="414.9"/>
<line x1="376.4" y1="573.3" x2="376.4" y2="576.6"/>
<line x1="467.7" y1="411.6" x2="467.7" y2="414.9"/>
<line x1="467.7" y1="573.3" x2="467.7" y2="576.6"/>
<line x1="291.9" y1="478.9" x2="295.7" y2="478.9"/>
<line x1="533.6" y1="478.9" x2="537.4" y2="478.9"/>
<line x1="291.9" y1="570.2" x2="295.7" y2="570.2"/>
<line x1="533.6" y1="570.2" x2="537.4" y2="570.2"/>
</g>
<text x="376.4" y="407.9" font-size="8.2" fill="#1a1a1a" text-anchor="middle">93°0'0&quot;E</text>
<text x="376.4" y="586.1" font-size="8.2" fill="#1a1a1a" text-anchor="middle">93°0'0&quot;E</text>
<text x="467.7" y="407.9" font-size="8.2" fill="#1a1a1a" text-anchor="middle">94°0'0&quot;E</text>
<text x="467.7" y="586.1" font-size="8.2" fill="#1a1a1a" text-anchor="middle">94°0'0&quot;E</text>
<text x="289.4" y="478.9" font-size="8.2" fill="#1a1a1a" text-anchor="middle" transform="rotate(-90 289.4 478.9)">30°0'0&quot;N</text>
<text x="545.6" y="478.9" font-size="8.2" fill="#1a1a1a" text-anchor="middle" transform="rotate(-90 545.6 478.9)">30°0'0&quot;N</text>
<text x="289.4" y="570.2" font-size="8.2" fill="#1a1a1a" text-anchor="middle" transform="rotate(-90 289.4 570.2)">29°0'0&quot;N</text>
<text x="545.6" y="570.2" font-size="8.2" fill="#1a1a1a" text-anchor="middle" transform="rotate(-90 545.6 570.2)">29°0'0&quot;N</text>
<text x="303.9" y="433.3" font-size="8.2" fill="#000" font-weight="bold" style="stroke:none">Dry season</text>
<use href="#narrow" transform="translate(281.3,401.3)"/>
<use href="#sbar" transform="translate(275.0,398.9)"/>
<g transform="translate(277.5,400.2)">
<path d="M27.3,126.9L29.9,125.7L31.4,127.2L33.1,126.1L35.7,126.4" fill="none" stroke="#3776e6" stroke-width="0.9"/>
<text x="40.7" y="128.6" font-size="7" fill="#1a1a1a">River</text>
<circle cx="79.7" cy="126.2" r="2.6" fill="#3fc00c" stroke="#36a80a" stroke-width="0.4"/>
<text x="87.5" y="128.6" font-size="7" fill="#1a1a1a">City</text>
<rect x="25.9" y="135.3" width="9.2" height="3.9" fill="#4a72d8" stroke="#7c7c7c" stroke-width="0.7"/>
<text x="38.1" y="139.7" font-size="7" fill="#1a1a1a">5.91 - 21.4</text>
<rect x="25.9" y="144.9" width="9.2" height="3.9" fill="#7d92de" stroke="#7c7c7c" stroke-width="0.7"/>
<text x="38.1" y="149.3" font-size="7" fill="#1a1a1a">21.5 - 30.5</text>
<rect x="25.9" y="154.6" width="9.2" height="3.9" fill="#a7b1df" stroke="#7c7c7c" stroke-width="0.7"/>
<text x="38.1" y="159.0" font-size="7" fill="#1a1a1a">30.6 - 38.3</text>
<rect x="25.9" y="164.3" width="9.2" height="3.9" fill="#c8cad4" stroke="#7c7c7c" stroke-width="0.7"/>
<text x="38.1" y="168.7" font-size="7" fill="#1a1a1a">38.4 - 49.4</text>
<rect x="76.8" y="135.3" width="9.2" height="3.9" fill="#fbf9c9" stroke="#7c7c7c" stroke-width="0.7"/>
<text x="89.0" y="139.7" font-size="7" fill="#1a1a1a">49.5 - 63.9</text>
<rect x="76.8" y="144.9" width="9.2" height="3.9" fill="#f9e5ab" stroke="#7c7c7c" stroke-width="0.7"/>
<text x="89.0" y="149.3" font-size="7" fill="#1a1a1a">64 - 78.8</text>
<rect x="76.8" y="154.6" width="9.2" height="3.9" fill="#f5c79b" stroke="#7c7c7c" stroke-width="0.7"/>
<text x="89.0" y="159.0" font-size="7" fill="#1a1a1a">78.9 - 93.8</text>
<rect x="76.8" y="164.3" width="9.2" height="3.9" fill="#efa382" stroke="#7c7c7c" stroke-width="0.7"/>
<text x="89.0" y="168.7" font-size="7" fill="#1a1a1a">93.9 - 106</text>
<rect x="129.8" y="144.9" width="9.2" height="3.9" fill="#e17e66" stroke="#7c7c7c" stroke-width="0.7"/>
<text x="142.3" y="149.3" font-size="7" fill="#1a1a1a">107 - 117</text>
<rect x="129.8" y="154.6" width="9.2" height="3.9" fill="#d55b4f" stroke="#7c7c7c" stroke-width="0.7"/>
<text x="142.3" y="159.0" font-size="7" fill="#1a1a1a">118 - 129</text>
</g>
<text x="415.8" y="596.1" font-size="13" fill="#000" text-anchor="middle" font-weight="bold" style="stroke:none">( f )</text>
</g>
</svg></body></html>
